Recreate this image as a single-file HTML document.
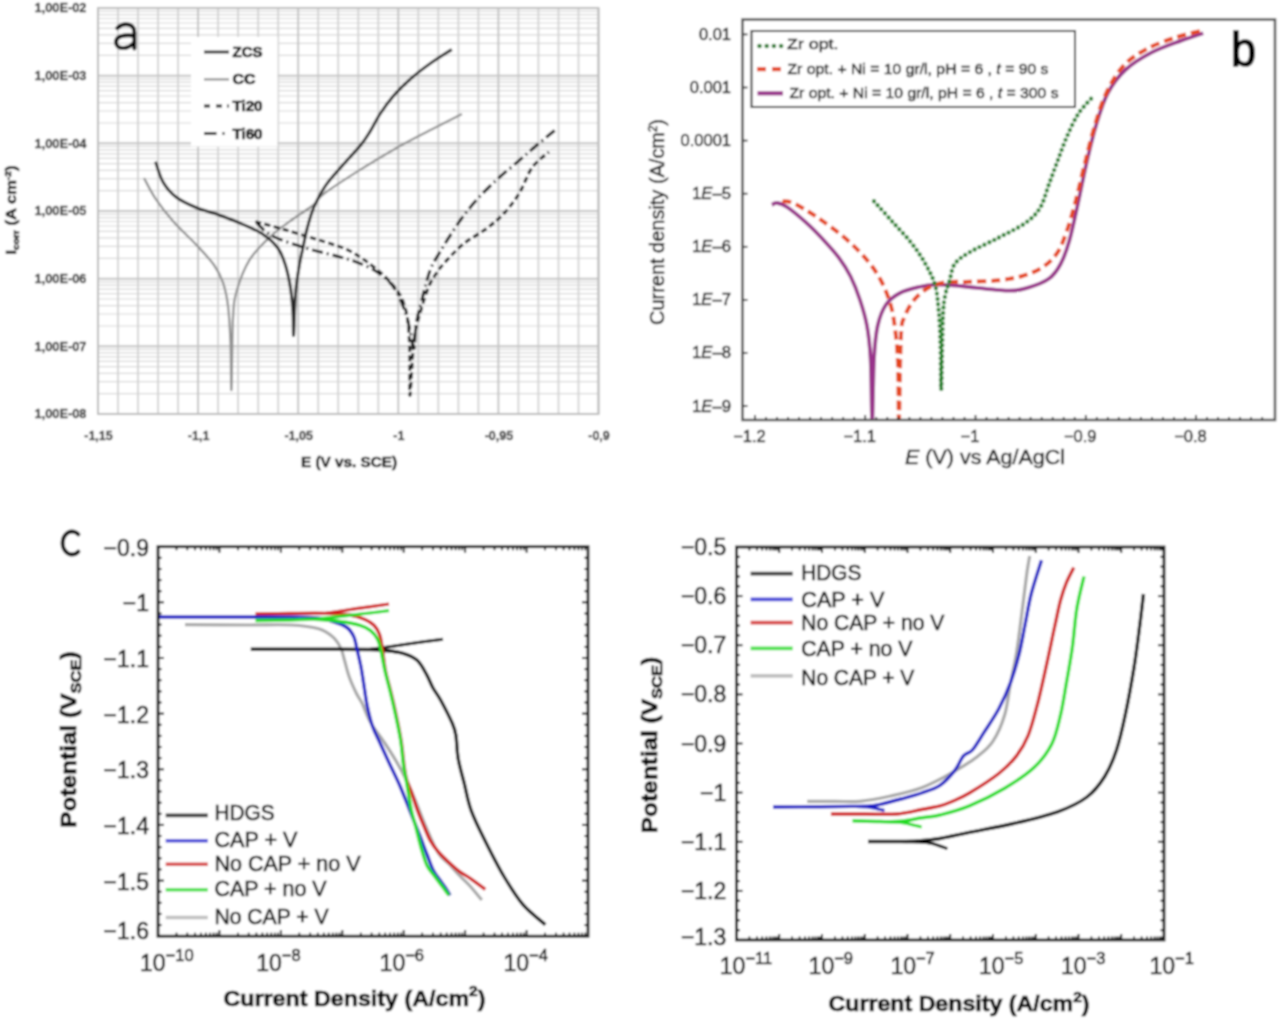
<!DOCTYPE html>
<html><head><meta charset="utf-8"><style>
html,body{margin:0;padding:0;background:#fff;width:1280px;height:1020px;overflow:hidden}
svg{display:block;font-family:"Liberation Sans",sans-serif}
</style></head><body>
<div id="w"><svg width="1280" height="1020" viewBox="0 0 1280 1020">
<defs><filter id="bl" x="0" y="0" width="1280" height="1020" filterUnits="userSpaceOnUse"><feConvolveMatrix order="5" kernelMatrix="1 4 6 4 1 4 16 24 16 4 6 24 36 24 6 4 16 24 16 4 1 4 6 4 1" edgeMode="duplicate"/></filter></defs>
<g filter="url(#bl)">
<rect width="1280" height="1020" fill="#fff"/>
<g id="pa">
<line x1="98" y1="393.6" x2="598.5" y2="393.6" stroke="#d8d8d8" stroke-width="1.2" />
<line x1="98" y1="381.7" x2="598.5" y2="381.7" stroke="#d8d8d8" stroke-width="1.2" />
<line x1="98" y1="373.3" x2="598.5" y2="373.3" stroke="#d8d8d8" stroke-width="1.2" />
<line x1="98" y1="366.7" x2="598.5" y2="366.7" stroke="#d8d8d8" stroke-width="1.2" />
<line x1="98" y1="361.3" x2="598.5" y2="361.3" stroke="#d8d8d8" stroke-width="1.2" />
<line x1="98" y1="356.8" x2="598.5" y2="356.8" stroke="#d8d8d8" stroke-width="1.2" />
<line x1="98" y1="352.9" x2="598.5" y2="352.9" stroke="#d8d8d8" stroke-width="1.2" />
<line x1="98" y1="349.4" x2="598.5" y2="349.4" stroke="#d8d8d8" stroke-width="1.2" />
<line x1="98" y1="326" x2="598.5" y2="326" stroke="#d8d8d8" stroke-width="1.2" />
<line x1="98" y1="314" x2="598.5" y2="314" stroke="#d8d8d8" stroke-width="1.2" />
<line x1="98" y1="305.6" x2="598.5" y2="305.6" stroke="#d8d8d8" stroke-width="1.2" />
<line x1="98" y1="299" x2="598.5" y2="299" stroke="#d8d8d8" stroke-width="1.2" />
<line x1="98" y1="293.7" x2="598.5" y2="293.7" stroke="#d8d8d8" stroke-width="1.2" />
<line x1="98" y1="289.1" x2="598.5" y2="289.1" stroke="#d8d8d8" stroke-width="1.2" />
<line x1="98" y1="285.2" x2="598.5" y2="285.2" stroke="#d8d8d8" stroke-width="1.2" />
<line x1="98" y1="281.8" x2="598.5" y2="281.8" stroke="#d8d8d8" stroke-width="1.2" />
<line x1="98" y1="258.3" x2="598.5" y2="258.3" stroke="#d8d8d8" stroke-width="1.2" />
<line x1="98" y1="246.4" x2="598.5" y2="246.4" stroke="#d8d8d8" stroke-width="1.2" />
<line x1="98" y1="237.9" x2="598.5" y2="237.9" stroke="#d8d8d8" stroke-width="1.2" />
<line x1="98" y1="231.4" x2="598.5" y2="231.4" stroke="#d8d8d8" stroke-width="1.2" />
<line x1="98" y1="226" x2="598.5" y2="226" stroke="#d8d8d8" stroke-width="1.2" />
<line x1="98" y1="221.5" x2="598.5" y2="221.5" stroke="#d8d8d8" stroke-width="1.2" />
<line x1="98" y1="217.6" x2="598.5" y2="217.6" stroke="#d8d8d8" stroke-width="1.2" />
<line x1="98" y1="214.1" x2="598.5" y2="214.1" stroke="#d8d8d8" stroke-width="1.2" />
<line x1="98" y1="190.6" x2="598.5" y2="190.6" stroke="#d8d8d8" stroke-width="1.2" />
<line x1="98" y1="178.7" x2="598.5" y2="178.7" stroke="#d8d8d8" stroke-width="1.2" />
<line x1="98" y1="170.3" x2="598.5" y2="170.3" stroke="#d8d8d8" stroke-width="1.2" />
<line x1="98" y1="163.7" x2="598.5" y2="163.7" stroke="#d8d8d8" stroke-width="1.2" />
<line x1="98" y1="158.3" x2="598.5" y2="158.3" stroke="#d8d8d8" stroke-width="1.2" />
<line x1="98" y1="153.8" x2="598.5" y2="153.8" stroke="#d8d8d8" stroke-width="1.2" />
<line x1="98" y1="149.9" x2="598.5" y2="149.9" stroke="#d8d8d8" stroke-width="1.2" />
<line x1="98" y1="146.4" x2="598.5" y2="146.4" stroke="#d8d8d8" stroke-width="1.2" />
<line x1="98" y1="123" x2="598.5" y2="123" stroke="#d8d8d8" stroke-width="1.2" />
<line x1="98" y1="111" x2="598.5" y2="111" stroke="#d8d8d8" stroke-width="1.2" />
<line x1="98" y1="102.6" x2="598.5" y2="102.6" stroke="#d8d8d8" stroke-width="1.2" />
<line x1="98" y1="96" x2="598.5" y2="96" stroke="#d8d8d8" stroke-width="1.2" />
<line x1="98" y1="90.7" x2="598.5" y2="90.7" stroke="#d8d8d8" stroke-width="1.2" />
<line x1="98" y1="86.1" x2="598.5" y2="86.1" stroke="#d8d8d8" stroke-width="1.2" />
<line x1="98" y1="82.2" x2="598.5" y2="82.2" stroke="#d8d8d8" stroke-width="1.2" />
<line x1="98" y1="78.8" x2="598.5" y2="78.8" stroke="#d8d8d8" stroke-width="1.2" />
<line x1="98" y1="55.3" x2="598.5" y2="55.3" stroke="#d8d8d8" stroke-width="1.2" />
<line x1="98" y1="43.4" x2="598.5" y2="43.4" stroke="#d8d8d8" stroke-width="1.2" />
<line x1="98" y1="34.9" x2="598.5" y2="34.9" stroke="#d8d8d8" stroke-width="1.2" />
<line x1="98" y1="28.4" x2="598.5" y2="28.4" stroke="#d8d8d8" stroke-width="1.2" />
<line x1="98" y1="23" x2="598.5" y2="23" stroke="#d8d8d8" stroke-width="1.2" />
<line x1="98" y1="18.5" x2="598.5" y2="18.5" stroke="#d8d8d8" stroke-width="1.2" />
<line x1="98" y1="14.6" x2="598.5" y2="14.6" stroke="#d8d8d8" stroke-width="1.2" />
<line x1="98" y1="11.1" x2="598.5" y2="11.1" stroke="#d8d8d8" stroke-width="1.2" />
<line x1="98" y1="8" x2="98" y2="414" stroke="#c0c0c0" stroke-width="1.8" />
<line x1="118" y1="8" x2="118" y2="414" stroke="#d2d2d2" stroke-width="1.8" />
<line x1="138" y1="8" x2="138" y2="414" stroke="#d2d2d2" stroke-width="1.8" />
<line x1="158.1" y1="8" x2="158.1" y2="414" stroke="#d2d2d2" stroke-width="1.8" />
<line x1="178.1" y1="8" x2="178.1" y2="414" stroke="#d2d2d2" stroke-width="1.8" />
<line x1="198.1" y1="8" x2="198.1" y2="414" stroke="#c0c0c0" stroke-width="1.8" />
<line x1="218.1" y1="8" x2="218.1" y2="414" stroke="#d2d2d2" stroke-width="1.8" />
<line x1="238.1" y1="8" x2="238.1" y2="414" stroke="#d2d2d2" stroke-width="1.8" />
<line x1="258.2" y1="8" x2="258.2" y2="414" stroke="#d2d2d2" stroke-width="1.8" />
<line x1="278.2" y1="8" x2="278.2" y2="414" stroke="#d2d2d2" stroke-width="1.8" />
<line x1="298.2" y1="8" x2="298.2" y2="414" stroke="#c0c0c0" stroke-width="1.8" />
<line x1="318.2" y1="8" x2="318.2" y2="414" stroke="#d2d2d2" stroke-width="1.8" />
<line x1="338.2" y1="8" x2="338.2" y2="414" stroke="#d2d2d2" stroke-width="1.8" />
<line x1="358.3" y1="8" x2="358.3" y2="414" stroke="#d2d2d2" stroke-width="1.8" />
<line x1="378.3" y1="8" x2="378.3" y2="414" stroke="#d2d2d2" stroke-width="1.8" />
<line x1="398.3" y1="8" x2="398.3" y2="414" stroke="#c0c0c0" stroke-width="1.8" />
<line x1="418.3" y1="8" x2="418.3" y2="414" stroke="#d2d2d2" stroke-width="1.8" />
<line x1="438.3" y1="8" x2="438.3" y2="414" stroke="#d2d2d2" stroke-width="1.8" />
<line x1="458.4" y1="8" x2="458.4" y2="414" stroke="#d2d2d2" stroke-width="1.8" />
<line x1="478.4" y1="8" x2="478.4" y2="414" stroke="#d2d2d2" stroke-width="1.8" />
<line x1="498.4" y1="8" x2="498.4" y2="414" stroke="#c0c0c0" stroke-width="1.8" />
<line x1="518.4" y1="8" x2="518.4" y2="414" stroke="#d2d2d2" stroke-width="1.8" />
<line x1="538.4" y1="8" x2="538.4" y2="414" stroke="#d2d2d2" stroke-width="1.8" />
<line x1="558.5" y1="8" x2="558.5" y2="414" stroke="#d2d2d2" stroke-width="1.8" />
<line x1="578.5" y1="8" x2="578.5" y2="414" stroke="#d2d2d2" stroke-width="1.8" />
<line x1="598.5" y1="8" x2="598.5" y2="414" stroke="#c0c0c0" stroke-width="1.8" />
<line x1="98" y1="414" x2="598.5" y2="414" stroke="#c4c4c4" stroke-width="2" />
<line x1="98" y1="346.3" x2="598.5" y2="346.3" stroke="#c4c4c4" stroke-width="2" />
<line x1="98" y1="278.7" x2="598.5" y2="278.7" stroke="#c4c4c4" stroke-width="2" />
<line x1="98" y1="211" x2="598.5" y2="211" stroke="#c4c4c4" stroke-width="2" />
<line x1="98" y1="143.3" x2="598.5" y2="143.3" stroke="#c4c4c4" stroke-width="2" />
<line x1="98" y1="75.7" x2="598.5" y2="75.7" stroke="#c4c4c4" stroke-width="2" />
<line x1="98" y1="8" x2="598.5" y2="8" stroke="#c4c4c4" stroke-width="2" />
<rect x="98" y="8" width="500.5" height="406" fill="none" stroke="#bcbcbc" stroke-width="2"/>
<rect x="191" y="37" width="86.5" height="109.5" fill="#fff"/>
<text x="86.5" y="12.4" font-size="12.5" fill="#333" text-anchor="end" font-weight="bold" textLength="52" lengthAdjust="spacingAndGlyphs" stroke="#333" stroke-width="0.3">1,00E-02</text>
<text x="86.5" y="80.1" font-size="12.5" fill="#333" text-anchor="end" font-weight="bold" textLength="52" lengthAdjust="spacingAndGlyphs" stroke="#333" stroke-width="0.3">1,00E-03</text>
<text x="86.5" y="147.7" font-size="12.5" fill="#333" text-anchor="end" font-weight="bold" textLength="52" lengthAdjust="spacingAndGlyphs" stroke="#333" stroke-width="0.3">1,00E-04</text>
<text x="86.5" y="215.4" font-size="12.5" fill="#333" text-anchor="end" font-weight="bold" textLength="52" lengthAdjust="spacingAndGlyphs" stroke="#333" stroke-width="0.3">1,00E-05</text>
<text x="86.5" y="283.1" font-size="12.5" fill="#333" text-anchor="end" font-weight="bold" textLength="52" lengthAdjust="spacingAndGlyphs" stroke="#333" stroke-width="0.3">1,00E-06</text>
<text x="86.5" y="350.7" font-size="12.5" fill="#333" text-anchor="end" font-weight="bold" textLength="52" lengthAdjust="spacingAndGlyphs" stroke="#333" stroke-width="0.3">1,00E-07</text>
<text x="86.5" y="418.4" font-size="12.5" fill="#333" text-anchor="end" font-weight="bold" textLength="52" lengthAdjust="spacingAndGlyphs" stroke="#333" stroke-width="0.3">1,00E-08</text>
<text x="98.5" y="440.4" font-size="12.5" fill="#333" text-anchor="middle" font-weight="bold" stroke="#333" stroke-width="0.3">-1,15</text>
<text x="198.6" y="440.4" font-size="12.5" fill="#333" text-anchor="middle" font-weight="bold" stroke="#333" stroke-width="0.3">-1,1</text>
<text x="298.7" y="440.4" font-size="12.5" fill="#333" text-anchor="middle" font-weight="bold" stroke="#333" stroke-width="0.3">-1,05</text>
<text x="398.8" y="440.4" font-size="12.5" fill="#333" text-anchor="middle" font-weight="bold" stroke="#333" stroke-width="0.3">-1</text>
<text x="498.9" y="440.4" font-size="12.5" fill="#333" text-anchor="middle" font-weight="bold" stroke="#333" stroke-width="0.3">-0,95</text>
<text x="599" y="440.4" font-size="12.5" fill="#333" text-anchor="middle" font-weight="bold" stroke="#333" stroke-width="0.3">-0,9</text>
<text x="349" y="467" font-size="14.5" fill="#111" text-anchor="middle" font-weight="bold" textLength="96" lengthAdjust="spacingAndGlyphs" stroke="#111" stroke-width="0.5">E (V vs. SCE)</text>
<text transform="translate(15.5 210) rotate(-90)" font-size="14.5" fill="#111" stroke="#111" stroke-width="0.5" text-anchor="middle" font-weight="bold" textLength="89" lengthAdjust="spacingAndGlyphs">I<tspan font-size="9" dy="3">corr</tspan><tspan dy="-3"> (A cm</tspan><tspan font-size="9" dy="-5">-2</tspan><tspan dy="5">)</tspan></text>
<path d="M144 178 C145.9 181.4 150.6 191.3 155.5 198.6 C160.4 205.8 166.6 213.8 173.3 221.5 C180.1 229.2 189.2 237.2 196 244.5 C202.8 251.8 209.5 258.6 214 265 C218.5 271.4 220.7 275.9 223 282.7 C225.3 289.5 226.7 295.4 228 305.6 C229.3 315.8 230 329.8 230.6 343.8 C231.2 357.8 231 394 231.4 389.7 C231.8 385.4 232.1 334.6 233 318 C233.9 301.4 234.2 299.7 237 290 C239.8 280.3 244.2 268.6 249.7 259.7 C255.2 250.8 262.8 243.6 270 236.8 C277.2 230 285.8 224.3 293 219 C300.2 213.7 308.3 209.2 313.4 205 C318.5 200.8 315.9 199.7 323.5 194 C331.1 188.3 347.1 178 358.8 170.6 C370.6 163.2 382.2 156.1 394 149.4 C405.8 142.7 418.1 136.5 429.4 130.6 C440.7 124.7 456.5 116.8 461.9 114" fill="none" stroke="#909090" stroke-width="2.3" stroke-linejoin="round" />
<path d="M255.4 221.6 C259.9 222.8 272.5 226.1 282.4 229 C292.3 231.9 303.9 235.4 314.7 238.8 C325.5 242.2 337.6 245.3 347 249.6 C356.4 253.9 364 259.7 370.8 264.7 C377.6 269.7 383 274.4 388 279.8 C393 285.2 397.8 290.5 401 297 C404.2 303.5 406.1 309.7 407.5 318.7 C408.9 327.7 409.3 338.2 409.7 351 C410.1 363.8 409.3 397.1 410 395.3 C410.7 393.5 412.3 353.9 414 340 C415.7 326.1 417.9 321 420.4 312 C422.9 303 426.1 292.8 429 286 C431.9 279.2 435.2 275 438 271 C440.8 267 441.3 266.3 445.5 261.8 C449.7 257.3 456.5 249.5 463.3 244 C470.1 238.5 479.5 233.8 486.3 228.7 C493.1 223.6 498.5 219.3 504 213.4 C509.5 207.5 514.7 200.7 519.4 193 C524.1 185.3 527.3 174.3 532.2 167.5 C537.1 160.7 546 154.6 548.8 152" fill="none" stroke="#1a1a1a" stroke-width="3" stroke-linejoin="round" stroke-dasharray="6 3.5"/>
<path d="M256.5 222.6 C259 224.8 263.7 231.4 271.6 235.6 C279.5 239.8 293.2 244.1 304 247.5 C314.8 250.9 327.3 253.5 336.3 256 C345.3 258.5 350.7 259.7 357.9 262.6 C365.1 265.5 373.3 269.1 379.4 273.4 C385.5 277.7 390.2 282 394.5 288.5 C398.8 295 402.6 304.6 405.3 312.2 C408 319.8 409.2 327.3 410.7 333.8 C412.1 340.3 413.1 352.5 414 351 C414.9 349.5 414.6 334 416 325 C417.4 316 420.2 306.2 422.6 297 C425 287.8 427.3 277.5 430.2 270 C433.1 262.5 435.4 259.7 440 252 C444.6 244.3 452 232.2 458 223.6 C464 215 469.6 207.9 476 200.6 C482.4 193.3 489.7 186.4 496.5 180 C503.3 173.6 510.6 167.9 517 162.4 C523.4 156.9 528.4 152.3 534.7 147 C541 141.7 551.3 133.2 554.6 130.5" fill="none" stroke="#1a1a1a" stroke-width="3" stroke-linejoin="round" stroke-dasharray="11 4 2 4"/>
<path d="M155.5 161.7 C156.8 165.1 159.6 176.1 163 182 C166.4 187.9 170.5 192.8 176 197 C181.5 201.2 188.8 204.5 196 207.5 C203.2 210.5 211.3 212.2 219 215 C226.7 217.8 234.8 220.8 242 224 C249.2 227.2 256.5 230 262.5 234 C268.5 238 274 242.8 277.8 248 C281.6 253.2 283.3 258.3 285.4 265 C287.5 271.7 289.2 280 290.5 288 C291.8 296 292.5 305.2 293 313 C293.5 320.8 293.2 338.3 293.6 335 C294 331.7 294.6 304.7 295.6 293 C296.6 281.3 298.2 272.2 299.4 265 C300.5 257.8 301.2 256 302.5 250 C303.8 244 305.1 236.2 307 229 C308.9 221.8 310.8 214.3 314 207 C317.2 199.7 321.3 191.8 326 185 C330.7 178.2 336.2 172.7 342 166 C347.8 159.3 356.2 150.6 361 144.7 C365.8 138.8 367.4 135.7 370.6 130.6 C373.8 125.5 376.1 119.9 380 114 C383.9 108.1 388.9 101.2 394 95.3 C399.1 89.4 404.3 84.3 410.6 78.8 C416.9 73.3 424.9 67.3 431.8 62.4 C438.7 57.5 448.5 51.6 451.8 49.4" fill="none" stroke="#262626" stroke-width="3" stroke-linejoin="round" />
<line x1="204" y1="52" x2="229" y2="52" stroke="#262626" stroke-width="2.8" />
<line x1="204" y1="79.4" x2="229" y2="79.4" stroke="#909090" stroke-width="2.2" />
<line x1="204" y1="106" x2="229" y2="106" stroke="#262626" stroke-width="2.8" stroke-dasharray="6 6 6 5 2 20"/>
<line x1="204" y1="133.5" x2="229" y2="133.5" stroke="#262626" stroke-width="3" stroke-dasharray="12.5 6 2 20"/>
<text x="232.5" y="57.2" font-size="14.5" fill="#000" text-anchor="start" font-weight="bold" textLength="30" lengthAdjust="spacingAndGlyphs" stroke="#000" stroke-width="0.7">ZCS</text>
<text x="232.5" y="84.4" font-size="14.5" fill="#000" text-anchor="start" font-weight="bold" textLength="23" lengthAdjust="spacingAndGlyphs" stroke="#000" stroke-width="0.7">CC</text>
<text x="232.5" y="111.2" font-size="14.5" fill="#000" text-anchor="start" font-weight="bold" textLength="30" lengthAdjust="spacingAndGlyphs" stroke="#000" stroke-width="0.7">Ti20</text>
<text x="232.5" y="138.6" font-size="14.5" fill="#000" text-anchor="start" font-weight="bold" textLength="30" lengthAdjust="spacingAndGlyphs" stroke="#000" stroke-width="0.7">Ti60</text>
<path d="M117.3 28.2 C119.8 25.6 122.8 24.2 126.2 24.2 C131.4 24.2 134.4 27.2 134.4 32.2 L134.4 48.6" fill="none" stroke="#000" stroke-width="3.9" stroke-linecap="round"/>
<path d="M134.4 35.7 C130.5 35.2 124.5 35.1 120.6 36.4 C117.6 37.5 116 39.7 116 42.3 C116 45.8 118.8 48.1 122.8 48.1 C127.3 48.1 131.6 45.6 134.4 42.2" fill="none" stroke="#000" stroke-width="3.9"/>
</g>
<g id="pb">
<clipPath id="cb"><rect x="742.5" y="19.5" width="532.5" height="400.5"/></clipPath>
<g clip-path="url(#cb)">
<path d="M771.8 204.7 C772.8 204.4 775.1 202.6 777.6 203 C780.1 203.4 782.3 203.8 787 207 C791.7 210.2 800 217.1 805.9 222.4 C811.8 227.7 816.9 232.9 822.4 238.8 C827.9 244.7 834.1 251.3 838.8 257.6 C843.5 263.9 847.1 269.4 850.6 276.5 C854.1 283.6 857.3 291.8 860 300 C862.7 308.2 865.2 316.2 867 326 C868.8 335.8 869.7 343.3 870.6 358.8 C871.5 374.3 871.6 419 872.2 419 C872.8 419 873.1 374.3 874 358.8 C874.9 343.3 875.6 335 877.6 326 C879.6 317 882.2 310.2 885.9 304.7 C889.6 299.2 894.5 295.9 900 293 C905.5 290.1 912.9 288.4 918.8 287 C924.7 285.6 928.4 284.9 935.3 284.7 C942.2 284.5 948 285 960 286 C972 287 996.2 290.3 1007.6 290.6 C1019 290.9 1021.3 289.6 1028.2 287.6 C1035.1 285.6 1043.4 282.7 1048.8 278.8 C1054.2 274.9 1057.2 270.4 1060.6 264 C1064 257.6 1066.5 250.9 1069.4 240.6 C1072.3 230.3 1075.3 215.7 1078.2 202.4 C1081.1 189.1 1084 173.8 1087 161 C1090 148.2 1092.5 137.2 1095.9 125.9 C1099.3 114.7 1102.7 102.8 1107.6 93.5 C1112.5 84.2 1117.9 76.8 1125.3 70 C1132.7 63.1 1142.5 57.3 1151.8 52.4 C1161.1 47.5 1172.6 43.8 1181.2 40.6 C1189.8 37.4 1199.5 34.4 1203.2 33.2" fill="none" stroke="#98308a" stroke-width="3.8" stroke-linejoin="round" />
<path d="M782.4 201.2 C784.3 201.6 788.1 200.8 794 203.5 C799.9 206.2 809 211.7 817.6 217.6 C826.2 223.5 837.7 231.7 845.9 238.8 C854.1 245.9 861.1 253 867 260 C872.9 267 877.3 273.6 881.2 281 C885.1 288.4 888.2 296.4 890.6 304.7 C893 313 894.1 320.8 895.3 330.6 C896.5 340.4 897.4 348.8 898 363.5 C898.6 378.2 898.5 423.8 899 419 C899.5 414.2 900 352.1 901 335 C902 317.9 902.5 322.3 904.7 316.5 C906.9 310.7 910.1 304.8 914 300 C917.9 295.2 922.9 290.9 928 288 C933.1 285.1 937.8 283.4 944.7 282.4 C951.6 281.4 960.4 282.1 969.4 281.8 C978.4 281.5 990 281.3 998.8 280.3 C1007.6 279.3 1015 278.2 1022.4 276 C1029.8 273.8 1037.1 270.9 1043 267 C1048.9 263.1 1053.7 258.3 1057.6 252.4 C1061.5 246.5 1063.5 240.1 1066.5 231.8 C1069.5 223.5 1072.4 213.2 1075.3 202.4 C1078.2 191.6 1081 178.8 1084 167 C1087 155.2 1089.5 143.6 1093 131.8 C1096.5 120.1 1099.8 107.3 1104.7 96.5 C1109.6 85.7 1115.5 74.8 1122.4 67 C1129.3 59.1 1137.1 54.3 1145.9 49.4 C1154.7 44.5 1165.8 40.8 1175.3 37.6 C1184.8 34.4 1198.4 31.5 1203 30.3" fill="none" stroke="#e4461a" stroke-width="4" stroke-linejoin="round" stroke-dasharray="9 5"/>
<path d="M874 201.2 C877.2 204.7 886.7 215.3 893 222.4 C899.3 229.5 906.3 236.4 911.8 243.5 C917.3 250.6 922 257.6 925.9 264.7 C929.8 271.8 933.1 278 935.3 285.9 C937.4 293.8 937.9 302 938.8 311.8 C939.7 321.6 940.1 331.8 940.5 344.7 C940.9 357.6 940.8 393.3 941.2 389.4 C941.6 385.4 942.2 336.3 942.8 321 C943.4 305.7 943.6 304.2 944.7 297.6 C945.8 291 947.7 286.8 949.4 281.2 C951.1 275.6 951.4 268.8 954.7 264 C958 259.2 962 256.8 969.4 252.4 C976.8 248 989.5 242.5 998.8 237.6 C1008.1 232.7 1018.4 227.9 1025.3 223 C1032.2 218.1 1036.1 214.4 1040 208 C1043.9 201.6 1045.9 192.5 1048.8 184.7 C1051.7 176.9 1054.6 168.8 1057.6 161 C1060.5 153.2 1063.1 145.4 1066.5 137.6 C1069.9 129.8 1073.8 120.8 1078.2 114 C1082.6 107.2 1090.5 99.4 1093 96.5" fill="none" stroke="#1a8020" stroke-width="4.4" stroke-linejoin="round" stroke-dasharray="0 5.4" stroke-linecap="round"/>
</g>
<rect x="742.5" y="19.5" width="532.5" height="400.5" fill="none" stroke="#555" stroke-width="2.6"/>
<line x1="755" y1="420" x2="755" y2="415" stroke="#333" stroke-width="1.8" />
<line x1="766" y1="420" x2="766" y2="417" stroke="#333" stroke-width="1.8" />
<line x1="777" y1="420" x2="777" y2="417" stroke="#333" stroke-width="1.8" />
<line x1="788.1" y1="420" x2="788.1" y2="417" stroke="#333" stroke-width="1.8" />
<line x1="799.1" y1="420" x2="799.1" y2="417" stroke="#333" stroke-width="1.8" />
<line x1="810.1" y1="420" x2="810.1" y2="417" stroke="#333" stroke-width="1.8" />
<line x1="821.1" y1="420" x2="821.1" y2="417" stroke="#333" stroke-width="1.8" />
<line x1="832.2" y1="420" x2="832.2" y2="417" stroke="#333" stroke-width="1.8" />
<line x1="843.2" y1="420" x2="843.2" y2="417" stroke="#333" stroke-width="1.8" />
<line x1="854.2" y1="420" x2="854.2" y2="417" stroke="#333" stroke-width="1.8" />
<line x1="865.2" y1="420" x2="865.2" y2="415" stroke="#333" stroke-width="1.8" />
<line x1="876.3" y1="420" x2="876.3" y2="417" stroke="#333" stroke-width="1.8" />
<line x1="887.3" y1="420" x2="887.3" y2="417" stroke="#333" stroke-width="1.8" />
<line x1="898.3" y1="420" x2="898.3" y2="417" stroke="#333" stroke-width="1.8" />
<line x1="909.4" y1="420" x2="909.4" y2="417" stroke="#333" stroke-width="1.8" />
<line x1="920.4" y1="420" x2="920.4" y2="417" stroke="#333" stroke-width="1.8" />
<line x1="931.4" y1="420" x2="931.4" y2="417" stroke="#333" stroke-width="1.8" />
<line x1="942.4" y1="420" x2="942.4" y2="417" stroke="#333" stroke-width="1.8" />
<line x1="953.5" y1="420" x2="953.5" y2="417" stroke="#333" stroke-width="1.8" />
<line x1="964.5" y1="420" x2="964.5" y2="417" stroke="#333" stroke-width="1.8" />
<line x1="975.5" y1="420" x2="975.5" y2="415" stroke="#333" stroke-width="1.8" />
<line x1="986.5" y1="420" x2="986.5" y2="417" stroke="#333" stroke-width="1.8" />
<line x1="997.5" y1="420" x2="997.5" y2="417" stroke="#333" stroke-width="1.8" />
<line x1="1008.6" y1="420" x2="1008.6" y2="417" stroke="#333" stroke-width="1.8" />
<line x1="1019.6" y1="420" x2="1019.6" y2="417" stroke="#333" stroke-width="1.8" />
<line x1="1030.6" y1="420" x2="1030.6" y2="417" stroke="#333" stroke-width="1.8" />
<line x1="1041.7" y1="420" x2="1041.7" y2="417" stroke="#333" stroke-width="1.8" />
<line x1="1052.7" y1="420" x2="1052.7" y2="417" stroke="#333" stroke-width="1.8" />
<line x1="1063.7" y1="420" x2="1063.7" y2="417" stroke="#333" stroke-width="1.8" />
<line x1="1074.7" y1="420" x2="1074.7" y2="417" stroke="#333" stroke-width="1.8" />
<line x1="1085.8" y1="420" x2="1085.8" y2="415" stroke="#333" stroke-width="1.8" />
<line x1="1096.8" y1="420" x2="1096.8" y2="417" stroke="#333" stroke-width="1.8" />
<line x1="1107.8" y1="420" x2="1107.8" y2="417" stroke="#333" stroke-width="1.8" />
<line x1="1118.8" y1="420" x2="1118.8" y2="417" stroke="#333" stroke-width="1.8" />
<line x1="1129.8" y1="420" x2="1129.8" y2="417" stroke="#333" stroke-width="1.8" />
<line x1="1140.9" y1="420" x2="1140.9" y2="417" stroke="#333" stroke-width="1.8" />
<line x1="1151.9" y1="420" x2="1151.9" y2="417" stroke="#333" stroke-width="1.8" />
<line x1="1162.9" y1="420" x2="1162.9" y2="417" stroke="#333" stroke-width="1.8" />
<line x1="1174" y1="420" x2="1174" y2="417" stroke="#333" stroke-width="1.8" />
<line x1="1185" y1="420" x2="1185" y2="417" stroke="#333" stroke-width="1.8" />
<line x1="1196" y1="420" x2="1196" y2="415" stroke="#333" stroke-width="1.8" />
<line x1="1207" y1="420" x2="1207" y2="417" stroke="#333" stroke-width="1.8" />
<line x1="1218" y1="420" x2="1218" y2="417" stroke="#333" stroke-width="1.8" />
<line x1="1229.1" y1="420" x2="1229.1" y2="417" stroke="#333" stroke-width="1.8" />
<line x1="1240.1" y1="420" x2="1240.1" y2="417" stroke="#333" stroke-width="1.8" />
<line x1="1251.1" y1="420" x2="1251.1" y2="417" stroke="#333" stroke-width="1.8" />
<line x1="1262.2" y1="420" x2="1262.2" y2="417" stroke="#333" stroke-width="1.8" />
<line x1="742.5" y1="406" x2="747.5" y2="406" stroke="#333" stroke-width="1.8" />
<line x1="742.5" y1="352.9" x2="747.5" y2="352.9" stroke="#333" stroke-width="1.8" />
<line x1="742.5" y1="299.9" x2="747.5" y2="299.9" stroke="#333" stroke-width="1.8" />
<line x1="742.5" y1="246.8" x2="747.5" y2="246.8" stroke="#333" stroke-width="1.8" />
<line x1="742.5" y1="193.7" x2="747.5" y2="193.7" stroke="#333" stroke-width="1.8" />
<line x1="742.5" y1="140.6" x2="747.5" y2="140.6" stroke="#333" stroke-width="1.8" />
<line x1="742.5" y1="87.5" x2="747.5" y2="87.5" stroke="#333" stroke-width="1.8" />
<line x1="742.5" y1="34.4" x2="747.5" y2="34.4" stroke="#333" stroke-width="1.8" />
<text x="731" y="39.9" font-size="16.5" fill="#1c1c1c" text-anchor="end" font-weight="normal" stroke="#1c1c1c" stroke-width="0.5">0.01</text>
<text x="731" y="93" font-size="16.5" fill="#1c1c1c" text-anchor="end" font-weight="normal" stroke="#1c1c1c" stroke-width="0.5">0.001</text>
<text x="731" y="146.1" font-size="16.5" fill="#1c1c1c" text-anchor="end" font-weight="normal" stroke="#1c1c1c" stroke-width="0.5">0.0001</text>
<text x="731" y="199.2" font-size="16.5" fill="#1c1c1c" stroke="#1c1c1c" stroke-width="0.5" text-anchor="end" textLength="39" lengthAdjust="spacingAndGlyphs">1<tspan font-style="italic">E</tspan>–5</text>
<text x="731" y="252.3" font-size="16.5" fill="#1c1c1c" stroke="#1c1c1c" stroke-width="0.5" text-anchor="end" textLength="39" lengthAdjust="spacingAndGlyphs">1<tspan font-style="italic">E</tspan>–6</text>
<text x="731" y="305.4" font-size="16.5" fill="#1c1c1c" stroke="#1c1c1c" stroke-width="0.5" text-anchor="end" textLength="39" lengthAdjust="spacingAndGlyphs">1<tspan font-style="italic">E</tspan>–7</text>
<text x="731" y="358.4" font-size="16.5" fill="#1c1c1c" stroke="#1c1c1c" stroke-width="0.5" text-anchor="end" textLength="39" lengthAdjust="spacingAndGlyphs">1<tspan font-style="italic">E</tspan>–8</text>
<text x="731" y="411.5" font-size="16.5" fill="#1c1c1c" stroke="#1c1c1c" stroke-width="0.5" text-anchor="end" textLength="39" lengthAdjust="spacingAndGlyphs">1<tspan font-style="italic">E</tspan>–9</text>
<text x="749.5" y="441.5" font-size="16.5" fill="#1c1c1c" text-anchor="middle" font-weight="normal" stroke="#1c1c1c" stroke-width="0.5">−1.2</text>
<text x="859.7" y="441.5" font-size="16.5" fill="#1c1c1c" text-anchor="middle" font-weight="normal" stroke="#1c1c1c" stroke-width="0.5">−1.1</text>
<text x="970" y="441.5" font-size="16.5" fill="#1c1c1c" text-anchor="middle" font-weight="normal" stroke="#1c1c1c" stroke-width="0.5">−1</text>
<text x="1080.2" y="441.5" font-size="16.5" fill="#1c1c1c" text-anchor="middle" font-weight="normal" stroke="#1c1c1c" stroke-width="0.5">−0.9</text>
<text x="1190.5" y="441.5" font-size="16.5" fill="#1c1c1c" text-anchor="middle" font-weight="normal" stroke="#1c1c1c" stroke-width="0.5">−0.8</text>
<text x="905" y="464" font-size="21" fill="#1c1c1c" stroke="#1c1c1c" stroke-width="0.5" textLength="160" lengthAdjust="spacingAndGlyphs"><tspan font-style="italic">E</tspan> (V) vs Ag/AgCl</text>
<text transform="translate(664 222) rotate(-90)" font-size="21" fill="#1c1c1c" stroke="#1c1c1c" stroke-width="0.5" text-anchor="middle" textLength="206" lengthAdjust="spacingAndGlyphs">Current density (A/cm<tspan font-size="12" dy="-7">2</tspan><tspan dy="7">)</tspan></text>
<rect x="751.5" y="31" width="323.5" height="76" fill="#fff" stroke="#333" stroke-width="2"/>
<line x1="759.5" y1="46" x2="784" y2="46" stroke="#1a7a20" stroke-width="4.6" stroke-dasharray="0 7.2" stroke-linecap="round"/>
<line x1="757" y1="69.2" x2="783" y2="69.2" stroke="#e4461a" stroke-width="4.2" stroke-dasharray="9 6"/>
<line x1="757.5" y1="93.3" x2="783" y2="93.3" stroke="#98308a" stroke-width="4.2" />
<text x="787" y="49.2" font-size="14.5" fill="#1c1c1c" stroke="#1c1c1c" stroke-width="0.5" textLength="51.5" lengthAdjust="spacingAndGlyphs">Zr opt.</text>
<text x="787.5" y="74.3" font-size="14.5" fill="#1c1c1c" stroke="#1c1c1c" stroke-width="0.5" textLength="261" lengthAdjust="spacingAndGlyphs">Zr opt. + Ni = 10 gr/l, pH = 6 , <tspan font-style="italic">t</tspan> = 90 s</text>
<text x="789.5" y="98.3" font-size="14.5" fill="#1c1c1c" stroke="#1c1c1c" stroke-width="0.5" textLength="269" lengthAdjust="spacingAndGlyphs">Zr opt. + Ni = 10 gr/l, pH = 6 , <tspan font-style="italic">t</tspan> = 300 s</text>
<text x="1231" y="66" font-size="48" fill="#000" text-anchor="start" font-weight="normal" textLength="25" lengthAdjust="spacingAndGlyphs" stroke="#000" stroke-width="1.6">b</text>
</g>
<clipPath id="ccl"><rect x="158" y="546.7" width="430" height="389.5"/></clipPath>
<g clip-path="url(#ccl)">
<path d="M185 624.7 C195.8 624.8 232.4 625 250 625 C267.6 625 279.2 624.4 290.6 625 C302.1 625.6 311.7 626.7 318.7 628.7 C325.7 630.7 329.1 633.6 332.8 636.9 C336.5 640.2 339.1 644.7 341 648.6 C342.9 652.5 343.1 655.6 344.5 660.3 C345.9 665 347.2 671.2 349.2 676.7 C351.1 682.2 354.1 688.6 356.2 693 C358.3 697.4 359.6 698.1 362 703 C364.4 707.9 366.8 715.8 370.6 722.5 C374.4 729.2 380.5 736.7 384.7 743 C388.9 749.3 392.6 755.1 395.7 760.4 C398.8 765.6 400.3 768.1 403.5 774.5 C406.7 780.9 410.9 790 414.7 798.8 C418.4 807.5 422.1 818 426 827 C429.9 836 434.4 846.8 438.2 853 C442 859.2 445.4 860.2 449 864 C452.6 867.8 456.5 872.3 460 876 C463.5 879.7 466.4 882 470 886 C473.6 890 479.8 897.7 481.8 900" fill="none" stroke="#a8a8a8" stroke-width="3.2" stroke-linejoin="round" />
<path d="M370 649.3 C372.4 649 378.1 648.3 384.4 647.4 C390.7 646.5 398 645.4 407.8 644 C417.6 642.6 437.1 640 443 639.2" fill="none" stroke="#000" stroke-width="3" stroke-linejoin="round" />
<path d="M250.8 649.3 C259 649.3 285.6 649.3 300 649.3 C314.4 649.3 325.8 649.3 337.5 649.3 C349.2 649.3 362.2 649.3 370 649.5 C377.8 649.7 378.9 649.9 384.4 650.5 C389.9 651.1 397.5 651.7 403 653.3 C408.5 654.9 413.3 656.8 417.2 660.3 C421.1 663.8 423.9 669.8 426.5 674.4 C429.1 679 430.6 683.7 433 688 C435.4 692.3 437.4 694.1 440.6 700 C443.8 705.9 449.8 717.6 452.4 723.5 C454.9 729.4 454.9 729.4 455.9 735.3 C456.9 741.2 456.8 750.9 458.2 758.8 C459.6 766.6 461.8 773.8 464 782.4 C466.2 791 467.6 800.8 471.2 810.6 C474.8 820.4 479.8 830.2 485.3 841.2 C490.8 852.2 497.7 865.9 504 876.5 C510.3 887.1 516.1 896.7 523 904.7 C529.9 912.7 541.6 921.4 545.3 924.7" fill="none" stroke="#000" stroke-width="3.4" stroke-linejoin="round" />
<path d="M325.8 613.4 C330.8 612.6 345.5 610.3 356 608.7 C366.5 607.1 383.5 604.8 389 604" fill="none" stroke="#d01c1c" stroke-width="3.2" stroke-linejoin="round" />
<path d="M255.5 614 C261.2 613.9 278.3 613.6 290 613.5 C301.7 613.4 315.8 613.1 325.8 613.4 C335.8 613.6 343.5 614 350 615 C356.5 616 361 617.8 365 619.5 C369 621.2 371.6 622.9 374 625.3 C376.4 627.7 378.1 630.7 379.4 634 C380.7 637.3 380.8 639.1 381.8 645 C382.8 650.9 383.8 661.9 385.2 669.5 C386.6 677.1 388.7 683.4 390.5 690.7 C392.3 698.1 394.1 705.4 395.8 713.6 C397.6 721.8 399.6 731.5 401 740.1 C402.4 748.7 403.1 758.5 404 765 C404.9 771.5 405.3 774.7 406.5 779.2 C407.7 783.7 409.5 786.6 411.4 791.8 C413.2 797 415.5 804.9 417.6 810.6 C419.7 816.4 421.9 821.3 424 826.3 C426.1 831.3 427.9 836.2 430.2 840.4 C432.5 844.6 434.9 847.7 438 851.4 C441.1 855.1 445.3 859 449 862.4 C452.7 865.8 456.3 869.1 460 871.8 C463.7 874.5 466.8 875.9 471 878.8 C475.2 881.7 482.9 887.6 485.3 889.4" fill="none" stroke="#d01c1c" stroke-width="3.4" stroke-linejoin="round" />
<path d="M158 617 C173.3 617 224 616.9 250 617 C276 617.1 300.2 616.9 314 617.7 C327.8 618.5 327.3 620 332.8 621.6 C338.3 623.2 343.4 625 346.9 627.5 C350.4 630 352.1 633 353.9 636.9 C355.6 640.8 356.2 646 357.4 651 C358.6 656 359.8 660.8 361 667 C362.2 673.2 363.4 682.1 364.4 688.4 C365.4 694.7 365.7 698.5 367 704.8 C368.3 711.1 370.2 719.6 372.4 726 C374.6 732.4 377.2 736.8 380 743 C382.8 749.2 386 756.2 389.4 763.5 C392.8 770.8 397 779.1 400.4 787 C403.8 794.9 406.7 802.8 409.8 810.6 C412.9 818.4 416.3 826.7 419.2 834 C422.1 841.3 424.6 848.5 427 854.5 C429.4 860.5 431.1 866 433.3 870.2 C435.5 874.5 438.1 877.2 440 880 C441.9 882.8 443.3 884.5 445 887 C446.7 889.5 449.2 893.9 450 895.3" fill="none" stroke="#1a1ac4" stroke-width="3.4" stroke-linejoin="round" />
<path d="M314 619.3 C321 618.5 343.7 616 356.2 614.6 C368.7 613.2 383.5 611.3 389 610.6" fill="none" stroke="#22dc22" stroke-width="3.2" stroke-linejoin="round" />
<path d="M255.5 620.5 C261.2 620.4 280.2 620.2 290 620 C299.8 619.8 305.7 619 314 619.3 C322.3 619.5 332.3 620.5 340 621.5 C347.7 622.5 354.9 623.8 360 625.3 C365.1 626.8 367.7 628.2 370.6 630.6 C373.6 633 375.9 635.9 377.7 639.4 C379.5 642.9 380 646.8 381.2 651.8 C382.4 656.8 383.2 663 384.7 669.5 C386.2 676 388.2 683.4 390 690.7 C391.8 698.1 393.5 705.4 395.3 713.6 C397.1 721.8 399.2 731.5 400.6 740.1 C402 748.7 402.6 758.5 403.5 765 C404.4 771.5 405.2 774.7 406 779.2 C406.8 783.7 407.3 786.6 408.2 791.8 C409.1 797 410.1 804.6 411.4 810.6 C412.7 816.6 414.4 821.8 416 827.8 C417.6 833.8 419 840.4 420.8 846.7 C422.6 853 424.6 860.5 427 865.5 C429.4 870.5 432.4 873.1 434.9 876.5 C437.4 879.9 439.6 882.9 442 886 C444.4 889.1 447.8 893.8 449 895.3" fill="none" stroke="#22dc22" stroke-width="3.4" stroke-linejoin="round" />
</g>
<rect x="158" y="546.7" width="430" height="389.5" fill="none" stroke="#000" stroke-width="2.8"/>
<line x1="158" y1="546.7" x2="164" y2="546.7" stroke="#111" stroke-width="2" />
<line x1="588" y1="546.7" x2="582" y2="546.7" stroke="#111" stroke-width="2" />
<line x1="158" y1="557.8" x2="161.5" y2="557.8" stroke="#111" stroke-width="2" />
<line x1="588" y1="557.8" x2="584.5" y2="557.8" stroke="#111" stroke-width="2" />
<line x1="158" y1="569" x2="161.5" y2="569" stroke="#111" stroke-width="2" />
<line x1="588" y1="569" x2="584.5" y2="569" stroke="#111" stroke-width="2" />
<line x1="158" y1="580.1" x2="161.5" y2="580.1" stroke="#111" stroke-width="2" />
<line x1="588" y1="580.1" x2="584.5" y2="580.1" stroke="#111" stroke-width="2" />
<line x1="158" y1="591.2" x2="161.5" y2="591.2" stroke="#111" stroke-width="2" />
<line x1="588" y1="591.2" x2="584.5" y2="591.2" stroke="#111" stroke-width="2" />
<line x1="158" y1="602.3" x2="164" y2="602.3" stroke="#111" stroke-width="2" />
<line x1="588" y1="602.3" x2="582" y2="602.3" stroke="#111" stroke-width="2" />
<line x1="158" y1="613.5" x2="161.5" y2="613.5" stroke="#111" stroke-width="2" />
<line x1="588" y1="613.5" x2="584.5" y2="613.5" stroke="#111" stroke-width="2" />
<line x1="158" y1="624.6" x2="161.5" y2="624.6" stroke="#111" stroke-width="2" />
<line x1="588" y1="624.6" x2="584.5" y2="624.6" stroke="#111" stroke-width="2" />
<line x1="158" y1="635.7" x2="161.5" y2="635.7" stroke="#111" stroke-width="2" />
<line x1="588" y1="635.7" x2="584.5" y2="635.7" stroke="#111" stroke-width="2" />
<line x1="158" y1="646.9" x2="161.5" y2="646.9" stroke="#111" stroke-width="2" />
<line x1="588" y1="646.9" x2="584.5" y2="646.9" stroke="#111" stroke-width="2" />
<line x1="158" y1="658" x2="164" y2="658" stroke="#111" stroke-width="2" />
<line x1="588" y1="658" x2="582" y2="658" stroke="#111" stroke-width="2" />
<line x1="158" y1="669.1" x2="161.5" y2="669.1" stroke="#111" stroke-width="2" />
<line x1="588" y1="669.1" x2="584.5" y2="669.1" stroke="#111" stroke-width="2" />
<line x1="158" y1="680.2" x2="161.5" y2="680.2" stroke="#111" stroke-width="2" />
<line x1="588" y1="680.2" x2="584.5" y2="680.2" stroke="#111" stroke-width="2" />
<line x1="158" y1="691.4" x2="161.5" y2="691.4" stroke="#111" stroke-width="2" />
<line x1="588" y1="691.4" x2="584.5" y2="691.4" stroke="#111" stroke-width="2" />
<line x1="158" y1="702.5" x2="161.5" y2="702.5" stroke="#111" stroke-width="2" />
<line x1="588" y1="702.5" x2="584.5" y2="702.5" stroke="#111" stroke-width="2" />
<line x1="158" y1="713.6" x2="164" y2="713.6" stroke="#111" stroke-width="2" />
<line x1="588" y1="713.6" x2="582" y2="713.6" stroke="#111" stroke-width="2" />
<line x1="158" y1="724.8" x2="161.5" y2="724.8" stroke="#111" stroke-width="2" />
<line x1="588" y1="724.8" x2="584.5" y2="724.8" stroke="#111" stroke-width="2" />
<line x1="158" y1="735.9" x2="161.5" y2="735.9" stroke="#111" stroke-width="2" />
<line x1="588" y1="735.9" x2="584.5" y2="735.9" stroke="#111" stroke-width="2" />
<line x1="158" y1="747" x2="161.5" y2="747" stroke="#111" stroke-width="2" />
<line x1="588" y1="747" x2="584.5" y2="747" stroke="#111" stroke-width="2" />
<line x1="158" y1="758.1" x2="161.5" y2="758.1" stroke="#111" stroke-width="2" />
<line x1="588" y1="758.1" x2="584.5" y2="758.1" stroke="#111" stroke-width="2" />
<line x1="158" y1="769.3" x2="164" y2="769.3" stroke="#111" stroke-width="2" />
<line x1="588" y1="769.3" x2="582" y2="769.3" stroke="#111" stroke-width="2" />
<line x1="158" y1="780.4" x2="161.5" y2="780.4" stroke="#111" stroke-width="2" />
<line x1="588" y1="780.4" x2="584.5" y2="780.4" stroke="#111" stroke-width="2" />
<line x1="158" y1="791.5" x2="161.5" y2="791.5" stroke="#111" stroke-width="2" />
<line x1="588" y1="791.5" x2="584.5" y2="791.5" stroke="#111" stroke-width="2" />
<line x1="158" y1="802.7" x2="161.5" y2="802.7" stroke="#111" stroke-width="2" />
<line x1="588" y1="802.7" x2="584.5" y2="802.7" stroke="#111" stroke-width="2" />
<line x1="158" y1="813.8" x2="161.5" y2="813.8" stroke="#111" stroke-width="2" />
<line x1="588" y1="813.8" x2="584.5" y2="813.8" stroke="#111" stroke-width="2" />
<line x1="158" y1="824.9" x2="164" y2="824.9" stroke="#111" stroke-width="2" />
<line x1="588" y1="824.9" x2="582" y2="824.9" stroke="#111" stroke-width="2" />
<line x1="158" y1="836" x2="161.5" y2="836" stroke="#111" stroke-width="2" />
<line x1="588" y1="836" x2="584.5" y2="836" stroke="#111" stroke-width="2" />
<line x1="158" y1="847.2" x2="161.5" y2="847.2" stroke="#111" stroke-width="2" />
<line x1="588" y1="847.2" x2="584.5" y2="847.2" stroke="#111" stroke-width="2" />
<line x1="158" y1="858.3" x2="161.5" y2="858.3" stroke="#111" stroke-width="2" />
<line x1="588" y1="858.3" x2="584.5" y2="858.3" stroke="#111" stroke-width="2" />
<line x1="158" y1="869.4" x2="161.5" y2="869.4" stroke="#111" stroke-width="2" />
<line x1="588" y1="869.4" x2="584.5" y2="869.4" stroke="#111" stroke-width="2" />
<line x1="158" y1="880.6" x2="164" y2="880.6" stroke="#111" stroke-width="2" />
<line x1="588" y1="880.6" x2="582" y2="880.6" stroke="#111" stroke-width="2" />
<line x1="158" y1="891.7" x2="161.5" y2="891.7" stroke="#111" stroke-width="2" />
<line x1="588" y1="891.7" x2="584.5" y2="891.7" stroke="#111" stroke-width="2" />
<line x1="158" y1="902.8" x2="161.5" y2="902.8" stroke="#111" stroke-width="2" />
<line x1="588" y1="902.8" x2="584.5" y2="902.8" stroke="#111" stroke-width="2" />
<line x1="158" y1="913.9" x2="161.5" y2="913.9" stroke="#111" stroke-width="2" />
<line x1="588" y1="913.9" x2="584.5" y2="913.9" stroke="#111" stroke-width="2" />
<line x1="158" y1="925.1" x2="161.5" y2="925.1" stroke="#111" stroke-width="2" />
<line x1="588" y1="925.1" x2="584.5" y2="925.1" stroke="#111" stroke-width="2" />
<line x1="158" y1="936.2" x2="164" y2="936.2" stroke="#111" stroke-width="2" />
<line x1="588" y1="936.2" x2="582" y2="936.2" stroke="#111" stroke-width="2" />
<line x1="158" y1="936.2" x2="158" y2="930.2" stroke="#111" stroke-width="2" />
<line x1="158" y1="546.7" x2="158" y2="552.7" stroke="#111" stroke-width="2" />
<line x1="176.5" y1="936.2" x2="176.5" y2="932.7" stroke="#111" stroke-width="1.8" />
<line x1="176.5" y1="546.7" x2="176.5" y2="550.2" stroke="#111" stroke-width="1.8" />
<line x1="187.3" y1="936.2" x2="187.3" y2="932.7" stroke="#111" stroke-width="1.8" />
<line x1="187.3" y1="546.7" x2="187.3" y2="550.2" stroke="#111" stroke-width="1.8" />
<line x1="195" y1="936.2" x2="195" y2="932.7" stroke="#111" stroke-width="1.8" />
<line x1="195" y1="546.7" x2="195" y2="550.2" stroke="#111" stroke-width="1.8" />
<line x1="200.9" y1="936.2" x2="200.9" y2="932.7" stroke="#111" stroke-width="1.8" />
<line x1="200.9" y1="546.7" x2="200.9" y2="550.2" stroke="#111" stroke-width="1.8" />
<line x1="205.8" y1="936.2" x2="205.8" y2="932.7" stroke="#111" stroke-width="1.8" />
<line x1="205.8" y1="546.7" x2="205.8" y2="550.2" stroke="#111" stroke-width="1.8" />
<line x1="209.9" y1="936.2" x2="209.9" y2="932.7" stroke="#111" stroke-width="1.8" />
<line x1="209.9" y1="546.7" x2="209.9" y2="550.2" stroke="#111" stroke-width="1.8" />
<line x1="213.5" y1="936.2" x2="213.5" y2="932.7" stroke="#111" stroke-width="1.8" />
<line x1="213.5" y1="546.7" x2="213.5" y2="550.2" stroke="#111" stroke-width="1.8" />
<line x1="216.6" y1="936.2" x2="216.6" y2="932.7" stroke="#111" stroke-width="1.8" />
<line x1="216.6" y1="546.7" x2="216.6" y2="550.2" stroke="#111" stroke-width="1.8" />
<line x1="219.4" y1="936.2" x2="219.4" y2="930.2" stroke="#111" stroke-width="2" />
<line x1="219.4" y1="546.7" x2="219.4" y2="552.7" stroke="#111" stroke-width="2" />
<line x1="237.9" y1="936.2" x2="237.9" y2="932.7" stroke="#111" stroke-width="1.8" />
<line x1="237.9" y1="546.7" x2="237.9" y2="550.2" stroke="#111" stroke-width="1.8" />
<line x1="248.7" y1="936.2" x2="248.7" y2="932.7" stroke="#111" stroke-width="1.8" />
<line x1="248.7" y1="546.7" x2="248.7" y2="550.2" stroke="#111" stroke-width="1.8" />
<line x1="256.4" y1="936.2" x2="256.4" y2="932.7" stroke="#111" stroke-width="1.8" />
<line x1="256.4" y1="546.7" x2="256.4" y2="550.2" stroke="#111" stroke-width="1.8" />
<line x1="262.4" y1="936.2" x2="262.4" y2="932.7" stroke="#111" stroke-width="1.8" />
<line x1="262.4" y1="546.7" x2="262.4" y2="550.2" stroke="#111" stroke-width="1.8" />
<line x1="267.2" y1="936.2" x2="267.2" y2="932.7" stroke="#111" stroke-width="1.8" />
<line x1="267.2" y1="546.7" x2="267.2" y2="550.2" stroke="#111" stroke-width="1.8" />
<line x1="271.3" y1="936.2" x2="271.3" y2="932.7" stroke="#111" stroke-width="1.8" />
<line x1="271.3" y1="546.7" x2="271.3" y2="550.2" stroke="#111" stroke-width="1.8" />
<line x1="274.9" y1="936.2" x2="274.9" y2="932.7" stroke="#111" stroke-width="1.8" />
<line x1="274.9" y1="546.7" x2="274.9" y2="550.2" stroke="#111" stroke-width="1.8" />
<line x1="278" y1="936.2" x2="278" y2="932.7" stroke="#111" stroke-width="1.8" />
<line x1="278" y1="546.7" x2="278" y2="550.2" stroke="#111" stroke-width="1.8" />
<line x1="280.9" y1="936.2" x2="280.9" y2="930.2" stroke="#111" stroke-width="2" />
<line x1="280.9" y1="546.7" x2="280.9" y2="552.7" stroke="#111" stroke-width="2" />
<line x1="299.3" y1="936.2" x2="299.3" y2="932.7" stroke="#111" stroke-width="1.8" />
<line x1="299.3" y1="546.7" x2="299.3" y2="550.2" stroke="#111" stroke-width="1.8" />
<line x1="310.2" y1="936.2" x2="310.2" y2="932.7" stroke="#111" stroke-width="1.8" />
<line x1="310.2" y1="546.7" x2="310.2" y2="550.2" stroke="#111" stroke-width="1.8" />
<line x1="317.8" y1="936.2" x2="317.8" y2="932.7" stroke="#111" stroke-width="1.8" />
<line x1="317.8" y1="546.7" x2="317.8" y2="550.2" stroke="#111" stroke-width="1.8" />
<line x1="323.8" y1="936.2" x2="323.8" y2="932.7" stroke="#111" stroke-width="1.8" />
<line x1="323.8" y1="546.7" x2="323.8" y2="550.2" stroke="#111" stroke-width="1.8" />
<line x1="328.7" y1="936.2" x2="328.7" y2="932.7" stroke="#111" stroke-width="1.8" />
<line x1="328.7" y1="546.7" x2="328.7" y2="550.2" stroke="#111" stroke-width="1.8" />
<line x1="332.8" y1="936.2" x2="332.8" y2="932.7" stroke="#111" stroke-width="1.8" />
<line x1="332.8" y1="546.7" x2="332.8" y2="550.2" stroke="#111" stroke-width="1.8" />
<line x1="336.3" y1="936.2" x2="336.3" y2="932.7" stroke="#111" stroke-width="1.8" />
<line x1="336.3" y1="546.7" x2="336.3" y2="550.2" stroke="#111" stroke-width="1.8" />
<line x1="339.5" y1="936.2" x2="339.5" y2="932.7" stroke="#111" stroke-width="1.8" />
<line x1="339.5" y1="546.7" x2="339.5" y2="550.2" stroke="#111" stroke-width="1.8" />
<line x1="342.3" y1="936.2" x2="342.3" y2="930.2" stroke="#111" stroke-width="2" />
<line x1="342.3" y1="546.7" x2="342.3" y2="552.7" stroke="#111" stroke-width="2" />
<line x1="360.8" y1="936.2" x2="360.8" y2="932.7" stroke="#111" stroke-width="1.8" />
<line x1="360.8" y1="546.7" x2="360.8" y2="550.2" stroke="#111" stroke-width="1.8" />
<line x1="371.6" y1="936.2" x2="371.6" y2="932.7" stroke="#111" stroke-width="1.8" />
<line x1="371.6" y1="546.7" x2="371.6" y2="550.2" stroke="#111" stroke-width="1.8" />
<line x1="379.3" y1="936.2" x2="379.3" y2="932.7" stroke="#111" stroke-width="1.8" />
<line x1="379.3" y1="546.7" x2="379.3" y2="550.2" stroke="#111" stroke-width="1.8" />
<line x1="385.2" y1="936.2" x2="385.2" y2="932.7" stroke="#111" stroke-width="1.8" />
<line x1="385.2" y1="546.7" x2="385.2" y2="550.2" stroke="#111" stroke-width="1.8" />
<line x1="390.1" y1="936.2" x2="390.1" y2="932.7" stroke="#111" stroke-width="1.8" />
<line x1="390.1" y1="546.7" x2="390.1" y2="550.2" stroke="#111" stroke-width="1.8" />
<line x1="394.2" y1="936.2" x2="394.2" y2="932.7" stroke="#111" stroke-width="1.8" />
<line x1="394.2" y1="546.7" x2="394.2" y2="550.2" stroke="#111" stroke-width="1.8" />
<line x1="397.8" y1="936.2" x2="397.8" y2="932.7" stroke="#111" stroke-width="1.8" />
<line x1="397.8" y1="546.7" x2="397.8" y2="550.2" stroke="#111" stroke-width="1.8" />
<line x1="400.9" y1="936.2" x2="400.9" y2="932.7" stroke="#111" stroke-width="1.8" />
<line x1="400.9" y1="546.7" x2="400.9" y2="550.2" stroke="#111" stroke-width="1.8" />
<line x1="403.7" y1="936.2" x2="403.7" y2="930.2" stroke="#111" stroke-width="2" />
<line x1="403.7" y1="546.7" x2="403.7" y2="552.7" stroke="#111" stroke-width="2" />
<line x1="422.2" y1="936.2" x2="422.2" y2="932.7" stroke="#111" stroke-width="1.8" />
<line x1="422.2" y1="546.7" x2="422.2" y2="550.2" stroke="#111" stroke-width="1.8" />
<line x1="433" y1="936.2" x2="433" y2="932.7" stroke="#111" stroke-width="1.8" />
<line x1="433" y1="546.7" x2="433" y2="550.2" stroke="#111" stroke-width="1.8" />
<line x1="440.7" y1="936.2" x2="440.7" y2="932.7" stroke="#111" stroke-width="1.8" />
<line x1="440.7" y1="546.7" x2="440.7" y2="550.2" stroke="#111" stroke-width="1.8" />
<line x1="446.7" y1="936.2" x2="446.7" y2="932.7" stroke="#111" stroke-width="1.8" />
<line x1="446.7" y1="546.7" x2="446.7" y2="550.2" stroke="#111" stroke-width="1.8" />
<line x1="451.5" y1="936.2" x2="451.5" y2="932.7" stroke="#111" stroke-width="1.8" />
<line x1="451.5" y1="546.7" x2="451.5" y2="550.2" stroke="#111" stroke-width="1.8" />
<line x1="455.6" y1="936.2" x2="455.6" y2="932.7" stroke="#111" stroke-width="1.8" />
<line x1="455.6" y1="546.7" x2="455.6" y2="550.2" stroke="#111" stroke-width="1.8" />
<line x1="459.2" y1="936.2" x2="459.2" y2="932.7" stroke="#111" stroke-width="1.8" />
<line x1="459.2" y1="546.7" x2="459.2" y2="550.2" stroke="#111" stroke-width="1.8" />
<line x1="462.3" y1="936.2" x2="462.3" y2="932.7" stroke="#111" stroke-width="1.8" />
<line x1="462.3" y1="546.7" x2="462.3" y2="550.2" stroke="#111" stroke-width="1.8" />
<line x1="465.1" y1="936.2" x2="465.1" y2="930.2" stroke="#111" stroke-width="2" />
<line x1="465.1" y1="546.7" x2="465.1" y2="552.7" stroke="#111" stroke-width="2" />
<line x1="483.6" y1="936.2" x2="483.6" y2="932.7" stroke="#111" stroke-width="1.8" />
<line x1="483.6" y1="546.7" x2="483.6" y2="550.2" stroke="#111" stroke-width="1.8" />
<line x1="494.5" y1="936.2" x2="494.5" y2="932.7" stroke="#111" stroke-width="1.8" />
<line x1="494.5" y1="546.7" x2="494.5" y2="550.2" stroke="#111" stroke-width="1.8" />
<line x1="502.1" y1="936.2" x2="502.1" y2="932.7" stroke="#111" stroke-width="1.8" />
<line x1="502.1" y1="546.7" x2="502.1" y2="550.2" stroke="#111" stroke-width="1.8" />
<line x1="508.1" y1="936.2" x2="508.1" y2="932.7" stroke="#111" stroke-width="1.8" />
<line x1="508.1" y1="546.7" x2="508.1" y2="550.2" stroke="#111" stroke-width="1.8" />
<line x1="512.9" y1="936.2" x2="512.9" y2="932.7" stroke="#111" stroke-width="1.8" />
<line x1="512.9" y1="546.7" x2="512.9" y2="550.2" stroke="#111" stroke-width="1.8" />
<line x1="517.1" y1="936.2" x2="517.1" y2="932.7" stroke="#111" stroke-width="1.8" />
<line x1="517.1" y1="546.7" x2="517.1" y2="550.2" stroke="#111" stroke-width="1.8" />
<line x1="520.6" y1="936.2" x2="520.6" y2="932.7" stroke="#111" stroke-width="1.8" />
<line x1="520.6" y1="546.7" x2="520.6" y2="550.2" stroke="#111" stroke-width="1.8" />
<line x1="523.8" y1="936.2" x2="523.8" y2="932.7" stroke="#111" stroke-width="1.8" />
<line x1="523.8" y1="546.7" x2="523.8" y2="550.2" stroke="#111" stroke-width="1.8" />
<line x1="526.6" y1="936.2" x2="526.6" y2="930.2" stroke="#111" stroke-width="2" />
<line x1="526.6" y1="546.7" x2="526.6" y2="552.7" stroke="#111" stroke-width="2" />
<line x1="545.1" y1="936.2" x2="545.1" y2="932.7" stroke="#111" stroke-width="1.8" />
<line x1="545.1" y1="546.7" x2="545.1" y2="550.2" stroke="#111" stroke-width="1.8" />
<line x1="555.9" y1="936.2" x2="555.9" y2="932.7" stroke="#111" stroke-width="1.8" />
<line x1="555.9" y1="546.7" x2="555.9" y2="550.2" stroke="#111" stroke-width="1.8" />
<line x1="563.6" y1="936.2" x2="563.6" y2="932.7" stroke="#111" stroke-width="1.8" />
<line x1="563.6" y1="546.7" x2="563.6" y2="550.2" stroke="#111" stroke-width="1.8" />
<line x1="569.5" y1="936.2" x2="569.5" y2="932.7" stroke="#111" stroke-width="1.8" />
<line x1="569.5" y1="546.7" x2="569.5" y2="550.2" stroke="#111" stroke-width="1.8" />
<line x1="574.4" y1="936.2" x2="574.4" y2="932.7" stroke="#111" stroke-width="1.8" />
<line x1="574.4" y1="546.7" x2="574.4" y2="550.2" stroke="#111" stroke-width="1.8" />
<line x1="578.5" y1="936.2" x2="578.5" y2="932.7" stroke="#111" stroke-width="1.8" />
<line x1="578.5" y1="546.7" x2="578.5" y2="550.2" stroke="#111" stroke-width="1.8" />
<line x1="582" y1="936.2" x2="582" y2="932.7" stroke="#111" stroke-width="1.8" />
<line x1="582" y1="546.7" x2="582" y2="550.2" stroke="#111" stroke-width="1.8" />
<line x1="585.2" y1="936.2" x2="585.2" y2="932.7" stroke="#111" stroke-width="1.8" />
<line x1="585.2" y1="546.7" x2="585.2" y2="550.2" stroke="#111" stroke-width="1.8" />
<line x1="588" y1="936.2" x2="588" y2="930.2" stroke="#111" stroke-width="2" />
<line x1="588" y1="546.7" x2="588" y2="552.7" stroke="#111" stroke-width="2" />
<text x="149" y="555.8" font-size="23" fill="#111" text-anchor="end" stroke="#111" stroke-width="0.6">−0.9</text>
<text x="149" y="611.4" font-size="23" fill="#111" text-anchor="end" stroke="#111" stroke-width="0.6">−1</text>
<text x="149" y="667.1" font-size="23" fill="#111" text-anchor="end" stroke="#111" stroke-width="0.6">−1.1</text>
<text x="149" y="722.7" font-size="23" fill="#111" text-anchor="end" stroke="#111" stroke-width="0.6">−1.2</text>
<text x="149" y="778.4" font-size="23" fill="#111" text-anchor="end" stroke="#111" stroke-width="0.6">−1.3</text>
<text x="149" y="834" font-size="23" fill="#111" text-anchor="end" stroke="#111" stroke-width="0.6">−1.4</text>
<text x="149" y="889.7" font-size="23" fill="#111" text-anchor="end" stroke="#111" stroke-width="0.6">−1.5</text>
<text x="149" y="939" font-size="23" fill="#111" text-anchor="end" stroke="#111" stroke-width="0.6">−1.6</text>
<text x="140" y="970.5" font-size="23" fill="#111" stroke="#111" stroke-width="0.6">10<tspan font-size="16.5" dy="-9.5">−10</tspan></text>
<text x="256.2" y="970.5" font-size="23" fill="#111" stroke="#111" stroke-width="0.6">10<tspan font-size="16.5" dy="-9.5">−8</tspan></text>
<text x="379.6" y="970.5" font-size="23" fill="#111" stroke="#111" stroke-width="0.6">10<tspan font-size="16.5" dy="-9.5">−6</tspan></text>
<text x="503.5" y="970.5" font-size="23" fill="#111" stroke="#111" stroke-width="0.6">10<tspan font-size="16.5" dy="-9.5">−4</tspan></text>
<text x="223.5" y="1005.6" font-size="22.5" fill="#000" stroke="#000" stroke-width="0.7" font-weight="bold" textLength="262" lengthAdjust="spacingAndGlyphs">Current Density (A/cm<tspan font-size="15" dy="-9.5">2</tspan><tspan dy="9.5">)</tspan></text>
<text transform="translate(76 739.5) rotate(-90)" font-size="22" fill="#000" stroke="#000" stroke-width="0.7" font-weight="bold" text-anchor="middle" textLength="176.5" lengthAdjust="spacingAndGlyphs">Potential (V<tspan font-size="15" dy="5">SCE</tspan><tspan dy="-5">)</tspan></text>
<line x1="165.7" y1="815.4" x2="207.8" y2="815.4" stroke="#3a3a3a" stroke-width="3.6" />
<text x="214.5" y="820" font-size="22.5" fill="#111" text-anchor="start" font-weight="normal" textLength="60" lengthAdjust="spacingAndGlyphs" stroke="#111" stroke-width="0.7">HDGS</text>
<line x1="165.7" y1="840.7" x2="207.8" y2="840.7" stroke="#4646d8" stroke-width="3.6" />
<text x="214.5" y="847" font-size="22.5" fill="#111" text-anchor="start" font-weight="normal" textLength="83" lengthAdjust="spacingAndGlyphs" stroke="#111" stroke-width="0.7">CAP + V</text>
<line x1="165.7" y1="864.3" x2="207.8" y2="864.3" stroke="#d84646" stroke-width="3.6" />
<text x="214.5" y="871" font-size="22.5" fill="#111" text-anchor="start" font-weight="normal" textLength="146" lengthAdjust="spacingAndGlyphs" stroke="#111" stroke-width="0.7">No CAP + no V</text>
<line x1="165.7" y1="889.7" x2="207.8" y2="889.7" stroke="#4ce04c" stroke-width="3.6" />
<text x="214.5" y="896" font-size="22.5" fill="#111" text-anchor="start" font-weight="normal" textLength="112" lengthAdjust="spacingAndGlyphs" stroke="#111" stroke-width="0.7">CAP + no V</text>
<line x1="165.7" y1="917.5" x2="207.8" y2="917.5" stroke="#c0c0c0" stroke-width="3.6" />
<text x="214.5" y="924" font-size="22.5" fill="#111" text-anchor="start" font-weight="normal" textLength="114" lengthAdjust="spacingAndGlyphs" stroke="#111" stroke-width="0.7">No CAP + V</text>
<clipPath id="ccr"><rect x="736.5" y="547" width="427.5" height="393"/></clipPath>
<g clip-path="url(#ccr)">
<path d="M807.2 801.3 C811.8 801.3 826.2 801.3 835 801.3 C843.8 801.3 850.5 802.2 859.8 801.3 C869.1 800.4 880.4 798.2 890.7 796 C901 793.8 911.3 791.7 921.6 787.8 C931.9 783.9 943.2 777.7 952.6 772.4 C962 767.1 971.5 761.1 978.2 755.9 C984.9 750.7 988.6 748.1 993 741.2 C997.4 734.3 1001.8 724.5 1004.7 714.7 C1007.6 704.9 1008.6 692.7 1010.6 682.4 C1012.6 672.1 1014.5 665.3 1016.5 653 C1018.5 640.7 1020.7 622 1022.4 608.8 C1024.1 595.5 1025.6 582.3 1026.8 573.5 C1028 564.7 1029.2 558.8 1029.7 555.9" fill="none" stroke="#a8a8a8" stroke-width="3.2" stroke-linejoin="round" />
<path d="M895 841.5 C898.8 841.6 911.3 841.7 917.5 842 C923.7 842.3 927 842.4 932 843.5 C937 844.6 944.8 847.8 947.4 848.7" fill="none" stroke="#000" stroke-width="3" stroke-linejoin="round" />
<path d="M868 841.5 C872.5 841.5 886.8 841.6 895 841.5 C903.2 841.4 910 841.5 917.5 841 C925 840.5 931.4 839.9 940 838.5 C948.6 837.1 957.1 834.9 969.4 832.4 C981.6 829.9 998.8 826.9 1013.5 823.5 C1028.2 820.1 1045.3 816.2 1057.6 811.8 C1069.8 807.4 1079.2 802.9 1087 797 C1094.8 791.1 1099.8 784.3 1104.7 776.5 C1109.6 768.7 1113.1 760.3 1116.5 750 C1119.9 739.7 1122.4 728.4 1125.3 714.7 C1128.2 701 1131.5 682.8 1134 667.6 C1136.5 652.4 1138.4 635.8 1140 623.5 C1141.6 611.2 1142.9 598.9 1143.5 594" fill="none" stroke="#000" stroke-width="3.4" stroke-linejoin="round" />
<path d="M830.9 814 C836.6 814 854 814 865 814 C876 814 887.5 814.8 896.9 814 C906.3 813.2 914.4 810.9 921.6 809.5 C928.8 808.1 934.8 807.3 940 805.9 C945.2 804.5 947.7 803.4 952.6 801.3 C957.5 799.1 961.7 797.6 969.4 793 C977.1 788.4 990.9 779.7 998.8 773.5 C1006.6 767.3 1011.6 762.3 1016.5 755.9 C1021.4 749.5 1024.8 743.6 1028.2 735.3 C1031.6 727 1034 717.2 1037 705.9 C1040 694.6 1043 680.8 1045.9 667.6 C1048.9 654.4 1052.2 637.8 1054.7 626.5 C1057.2 615.2 1058.6 607.4 1060.6 600 C1062.6 592.6 1064.3 587.8 1066.5 582.4 C1068.7 577 1072.6 570.1 1073.8 567.6" fill="none" stroke="#d01c1c" stroke-width="3.4" stroke-linejoin="round" />
<path d="M880 821.5 C883.5 821.7 894.1 821.6 901 822.5 C907.9 823.4 918.2 826.2 921.6 827" fill="none" stroke="#22dc22" stroke-width="3" stroke-linejoin="round" />
<path d="M852.5 820.8 C857.1 820.9 871.9 821.4 880 821.5 C888.1 821.6 894.1 821.9 901 821.3 C907.9 820.7 915.1 818.8 921.6 817.8 C928.1 816.8 932 817 940 815 C948 813 958.6 810.4 969.4 805.9 C980.2 801.4 993.9 794.6 1004.7 788.2 C1015.5 781.8 1026.2 775 1034 767.6 C1041.8 760.2 1047.4 752.8 1051.8 744 C1056.2 735.2 1058.1 725 1060.6 714.7 C1063 704.4 1064.5 693.7 1066.5 682.4 C1068.5 671.1 1070.7 659.3 1072.4 647 C1074.1 634.7 1074.9 620.5 1076.8 608.8 C1078.7 597 1082.8 581.9 1084 576.5" fill="none" stroke="#22dc22" stroke-width="3.4" stroke-linejoin="round" />
<path d="M851.5 806.4 C854.6 806.6 864.5 806.7 870 807.4 C875.5 808.1 882.1 810 884.5 810.5" fill="none" stroke="#1a1ac4" stroke-width="3" stroke-linejoin="round" />
<path d="M773.1 807 C780.9 807 806.9 806.9 820 806.8 C833.1 806.7 843.2 806.5 851.5 806.4 C859.8 806.3 865.2 806.4 870 806 C874.8 805.6 875.2 805.5 880.4 804.3 C885.6 803.1 894.1 800.9 901 799 C907.9 797.1 915.1 795.3 921.6 793 C928.1 790.7 934.5 789 940 785.3 C945.5 781.6 950.8 775.5 954.7 770.6 C958.6 765.7 960.5 759.3 963.5 755.9 C966.5 752.5 969 753.9 972.4 750 C975.8 746.1 979.6 739.3 984 732.4 C988.4 725.5 994.4 717.1 998.8 708.8 C1003.2 700.5 1007.2 691.7 1010.6 682.4 C1014 673.1 1017 662.8 1019.4 653 C1021.8 643.2 1023.3 633.3 1025.3 623.5 C1027.3 613.7 1028.5 604.5 1031.2 594 C1033.9 583.5 1039.8 565.9 1041.5 560.3" fill="none" stroke="#1a1ac4" stroke-width="3.4" stroke-linejoin="round" />
</g>
<rect x="736.5" y="547" width="427.5" height="393" fill="none" stroke="#000" stroke-width="2.8"/>
<line x1="736.5" y1="547" x2="742.5" y2="547" stroke="#111" stroke-width="2" />
<line x1="1164" y1="547" x2="1158" y2="547" stroke="#111" stroke-width="2" />
<line x1="736.5" y1="556.8" x2="740" y2="556.8" stroke="#111" stroke-width="2" />
<line x1="1164" y1="556.8" x2="1160.5" y2="556.8" stroke="#111" stroke-width="2" />
<line x1="736.5" y1="566.6" x2="740" y2="566.6" stroke="#111" stroke-width="2" />
<line x1="1164" y1="566.6" x2="1160.5" y2="566.6" stroke="#111" stroke-width="2" />
<line x1="736.5" y1="576.5" x2="740" y2="576.5" stroke="#111" stroke-width="2" />
<line x1="1164" y1="576.5" x2="1160.5" y2="576.5" stroke="#111" stroke-width="2" />
<line x1="736.5" y1="586.3" x2="740" y2="586.3" stroke="#111" stroke-width="2" />
<line x1="1164" y1="586.3" x2="1160.5" y2="586.3" stroke="#111" stroke-width="2" />
<line x1="736.5" y1="596.1" x2="742.5" y2="596.1" stroke="#111" stroke-width="2" />
<line x1="1164" y1="596.1" x2="1158" y2="596.1" stroke="#111" stroke-width="2" />
<line x1="736.5" y1="606" x2="740" y2="606" stroke="#111" stroke-width="2" />
<line x1="1164" y1="606" x2="1160.5" y2="606" stroke="#111" stroke-width="2" />
<line x1="736.5" y1="615.8" x2="740" y2="615.8" stroke="#111" stroke-width="2" />
<line x1="1164" y1="615.8" x2="1160.5" y2="615.8" stroke="#111" stroke-width="2" />
<line x1="736.5" y1="625.6" x2="740" y2="625.6" stroke="#111" stroke-width="2" />
<line x1="1164" y1="625.6" x2="1160.5" y2="625.6" stroke="#111" stroke-width="2" />
<line x1="736.5" y1="635.4" x2="740" y2="635.4" stroke="#111" stroke-width="2" />
<line x1="1164" y1="635.4" x2="1160.5" y2="635.4" stroke="#111" stroke-width="2" />
<line x1="736.5" y1="645.2" x2="742.5" y2="645.2" stroke="#111" stroke-width="2" />
<line x1="1164" y1="645.2" x2="1158" y2="645.2" stroke="#111" stroke-width="2" />
<line x1="736.5" y1="655.1" x2="740" y2="655.1" stroke="#111" stroke-width="2" />
<line x1="1164" y1="655.1" x2="1160.5" y2="655.1" stroke="#111" stroke-width="2" />
<line x1="736.5" y1="664.9" x2="740" y2="664.9" stroke="#111" stroke-width="2" />
<line x1="1164" y1="664.9" x2="1160.5" y2="664.9" stroke="#111" stroke-width="2" />
<line x1="736.5" y1="674.7" x2="740" y2="674.7" stroke="#111" stroke-width="2" />
<line x1="1164" y1="674.7" x2="1160.5" y2="674.7" stroke="#111" stroke-width="2" />
<line x1="736.5" y1="684.5" x2="740" y2="684.5" stroke="#111" stroke-width="2" />
<line x1="1164" y1="684.5" x2="1160.5" y2="684.5" stroke="#111" stroke-width="2" />
<line x1="736.5" y1="694.4" x2="742.5" y2="694.4" stroke="#111" stroke-width="2" />
<line x1="1164" y1="694.4" x2="1158" y2="694.4" stroke="#111" stroke-width="2" />
<line x1="736.5" y1="704.2" x2="740" y2="704.2" stroke="#111" stroke-width="2" />
<line x1="1164" y1="704.2" x2="1160.5" y2="704.2" stroke="#111" stroke-width="2" />
<line x1="736.5" y1="714" x2="740" y2="714" stroke="#111" stroke-width="2" />
<line x1="1164" y1="714" x2="1160.5" y2="714" stroke="#111" stroke-width="2" />
<line x1="736.5" y1="723.9" x2="740" y2="723.9" stroke="#111" stroke-width="2" />
<line x1="1164" y1="723.9" x2="1160.5" y2="723.9" stroke="#111" stroke-width="2" />
<line x1="736.5" y1="733.7" x2="740" y2="733.7" stroke="#111" stroke-width="2" />
<line x1="1164" y1="733.7" x2="1160.5" y2="733.7" stroke="#111" stroke-width="2" />
<line x1="736.5" y1="743.5" x2="742.5" y2="743.5" stroke="#111" stroke-width="2" />
<line x1="1164" y1="743.5" x2="1158" y2="743.5" stroke="#111" stroke-width="2" />
<line x1="736.5" y1="753.3" x2="740" y2="753.3" stroke="#111" stroke-width="2" />
<line x1="1164" y1="753.3" x2="1160.5" y2="753.3" stroke="#111" stroke-width="2" />
<line x1="736.5" y1="763.1" x2="740" y2="763.1" stroke="#111" stroke-width="2" />
<line x1="1164" y1="763.1" x2="1160.5" y2="763.1" stroke="#111" stroke-width="2" />
<line x1="736.5" y1="773" x2="740" y2="773" stroke="#111" stroke-width="2" />
<line x1="1164" y1="773" x2="1160.5" y2="773" stroke="#111" stroke-width="2" />
<line x1="736.5" y1="782.8" x2="740" y2="782.8" stroke="#111" stroke-width="2" />
<line x1="1164" y1="782.8" x2="1160.5" y2="782.8" stroke="#111" stroke-width="2" />
<line x1="736.5" y1="792.6" x2="742.5" y2="792.6" stroke="#111" stroke-width="2" />
<line x1="1164" y1="792.6" x2="1158" y2="792.6" stroke="#111" stroke-width="2" />
<line x1="736.5" y1="802.5" x2="740" y2="802.5" stroke="#111" stroke-width="2" />
<line x1="1164" y1="802.5" x2="1160.5" y2="802.5" stroke="#111" stroke-width="2" />
<line x1="736.5" y1="812.3" x2="740" y2="812.3" stroke="#111" stroke-width="2" />
<line x1="1164" y1="812.3" x2="1160.5" y2="812.3" stroke="#111" stroke-width="2" />
<line x1="736.5" y1="822.1" x2="740" y2="822.1" stroke="#111" stroke-width="2" />
<line x1="1164" y1="822.1" x2="1160.5" y2="822.1" stroke="#111" stroke-width="2" />
<line x1="736.5" y1="831.9" x2="740" y2="831.9" stroke="#111" stroke-width="2" />
<line x1="1164" y1="831.9" x2="1160.5" y2="831.9" stroke="#111" stroke-width="2" />
<line x1="736.5" y1="841.8" x2="742.5" y2="841.8" stroke="#111" stroke-width="2" />
<line x1="1164" y1="841.8" x2="1158" y2="841.8" stroke="#111" stroke-width="2" />
<line x1="736.5" y1="851.6" x2="740" y2="851.6" stroke="#111" stroke-width="2" />
<line x1="1164" y1="851.6" x2="1160.5" y2="851.6" stroke="#111" stroke-width="2" />
<line x1="736.5" y1="861.4" x2="740" y2="861.4" stroke="#111" stroke-width="2" />
<line x1="1164" y1="861.4" x2="1160.5" y2="861.4" stroke="#111" stroke-width="2" />
<line x1="736.5" y1="871.2" x2="740" y2="871.2" stroke="#111" stroke-width="2" />
<line x1="1164" y1="871.2" x2="1160.5" y2="871.2" stroke="#111" stroke-width="2" />
<line x1="736.5" y1="881.1" x2="740" y2="881.1" stroke="#111" stroke-width="2" />
<line x1="1164" y1="881.1" x2="1160.5" y2="881.1" stroke="#111" stroke-width="2" />
<line x1="736.5" y1="890.9" x2="742.5" y2="890.9" stroke="#111" stroke-width="2" />
<line x1="1164" y1="890.9" x2="1158" y2="890.9" stroke="#111" stroke-width="2" />
<line x1="736.5" y1="900.7" x2="740" y2="900.7" stroke="#111" stroke-width="2" />
<line x1="1164" y1="900.7" x2="1160.5" y2="900.7" stroke="#111" stroke-width="2" />
<line x1="736.5" y1="910.5" x2="740" y2="910.5" stroke="#111" stroke-width="2" />
<line x1="1164" y1="910.5" x2="1160.5" y2="910.5" stroke="#111" stroke-width="2" />
<line x1="736.5" y1="920.3" x2="740" y2="920.3" stroke="#111" stroke-width="2" />
<line x1="1164" y1="920.3" x2="1160.5" y2="920.3" stroke="#111" stroke-width="2" />
<line x1="736.5" y1="930.2" x2="740" y2="930.2" stroke="#111" stroke-width="2" />
<line x1="1164" y1="930.2" x2="1160.5" y2="930.2" stroke="#111" stroke-width="2" />
<line x1="736.5" y1="940" x2="742.5" y2="940" stroke="#111" stroke-width="2" />
<line x1="1164" y1="940" x2="1158" y2="940" stroke="#111" stroke-width="2" />
<line x1="736.5" y1="940" x2="736.5" y2="934" stroke="#111" stroke-width="2" />
<line x1="736.5" y1="547" x2="736.5" y2="553" stroke="#111" stroke-width="2" />
<line x1="749.4" y1="940" x2="749.4" y2="936.5" stroke="#111" stroke-width="1.8" />
<line x1="749.4" y1="547" x2="749.4" y2="550.5" stroke="#111" stroke-width="1.8" />
<line x1="756.9" y1="940" x2="756.9" y2="936.5" stroke="#111" stroke-width="1.8" />
<line x1="756.9" y1="547" x2="756.9" y2="550.5" stroke="#111" stroke-width="1.8" />
<line x1="762.2" y1="940" x2="762.2" y2="936.5" stroke="#111" stroke-width="1.8" />
<line x1="762.2" y1="547" x2="762.2" y2="550.5" stroke="#111" stroke-width="1.8" />
<line x1="766.4" y1="940" x2="766.4" y2="936.5" stroke="#111" stroke-width="1.8" />
<line x1="766.4" y1="547" x2="766.4" y2="550.5" stroke="#111" stroke-width="1.8" />
<line x1="769.8" y1="940" x2="769.8" y2="936.5" stroke="#111" stroke-width="1.8" />
<line x1="769.8" y1="547" x2="769.8" y2="550.5" stroke="#111" stroke-width="1.8" />
<line x1="772.6" y1="940" x2="772.6" y2="936.5" stroke="#111" stroke-width="1.8" />
<line x1="772.6" y1="547" x2="772.6" y2="550.5" stroke="#111" stroke-width="1.8" />
<line x1="775.1" y1="940" x2="775.1" y2="936.5" stroke="#111" stroke-width="1.8" />
<line x1="775.1" y1="547" x2="775.1" y2="550.5" stroke="#111" stroke-width="1.8" />
<line x1="777.3" y1="940" x2="777.3" y2="936.5" stroke="#111" stroke-width="1.8" />
<line x1="777.3" y1="547" x2="777.3" y2="550.5" stroke="#111" stroke-width="1.8" />
<line x1="779.2" y1="940" x2="779.2" y2="934" stroke="#111" stroke-width="2" />
<line x1="779.2" y1="547" x2="779.2" y2="553" stroke="#111" stroke-width="2" />
<line x1="792.1" y1="940" x2="792.1" y2="936.5" stroke="#111" stroke-width="1.8" />
<line x1="792.1" y1="547" x2="792.1" y2="550.5" stroke="#111" stroke-width="1.8" />
<line x1="799.6" y1="940" x2="799.6" y2="936.5" stroke="#111" stroke-width="1.8" />
<line x1="799.6" y1="547" x2="799.6" y2="550.5" stroke="#111" stroke-width="1.8" />
<line x1="805" y1="940" x2="805" y2="936.5" stroke="#111" stroke-width="1.8" />
<line x1="805" y1="547" x2="805" y2="550.5" stroke="#111" stroke-width="1.8" />
<line x1="809.1" y1="940" x2="809.1" y2="936.5" stroke="#111" stroke-width="1.8" />
<line x1="809.1" y1="547" x2="809.1" y2="550.5" stroke="#111" stroke-width="1.8" />
<line x1="812.5" y1="940" x2="812.5" y2="936.5" stroke="#111" stroke-width="1.8" />
<line x1="812.5" y1="547" x2="812.5" y2="550.5" stroke="#111" stroke-width="1.8" />
<line x1="815.4" y1="940" x2="815.4" y2="936.5" stroke="#111" stroke-width="1.8" />
<line x1="815.4" y1="547" x2="815.4" y2="550.5" stroke="#111" stroke-width="1.8" />
<line x1="817.9" y1="940" x2="817.9" y2="936.5" stroke="#111" stroke-width="1.8" />
<line x1="817.9" y1="547" x2="817.9" y2="550.5" stroke="#111" stroke-width="1.8" />
<line x1="820" y1="940" x2="820" y2="936.5" stroke="#111" stroke-width="1.8" />
<line x1="820" y1="547" x2="820" y2="550.5" stroke="#111" stroke-width="1.8" />
<line x1="822" y1="940" x2="822" y2="934" stroke="#111" stroke-width="2" />
<line x1="822" y1="547" x2="822" y2="553" stroke="#111" stroke-width="2" />
<line x1="834.9" y1="940" x2="834.9" y2="936.5" stroke="#111" stroke-width="1.8" />
<line x1="834.9" y1="547" x2="834.9" y2="550.5" stroke="#111" stroke-width="1.8" />
<line x1="842.4" y1="940" x2="842.4" y2="936.5" stroke="#111" stroke-width="1.8" />
<line x1="842.4" y1="547" x2="842.4" y2="550.5" stroke="#111" stroke-width="1.8" />
<line x1="847.7" y1="940" x2="847.7" y2="936.5" stroke="#111" stroke-width="1.8" />
<line x1="847.7" y1="547" x2="847.7" y2="550.5" stroke="#111" stroke-width="1.8" />
<line x1="851.9" y1="940" x2="851.9" y2="936.5" stroke="#111" stroke-width="1.8" />
<line x1="851.9" y1="547" x2="851.9" y2="550.5" stroke="#111" stroke-width="1.8" />
<line x1="855.3" y1="940" x2="855.3" y2="936.5" stroke="#111" stroke-width="1.8" />
<line x1="855.3" y1="547" x2="855.3" y2="550.5" stroke="#111" stroke-width="1.8" />
<line x1="858.1" y1="940" x2="858.1" y2="936.5" stroke="#111" stroke-width="1.8" />
<line x1="858.1" y1="547" x2="858.1" y2="550.5" stroke="#111" stroke-width="1.8" />
<line x1="860.6" y1="940" x2="860.6" y2="936.5" stroke="#111" stroke-width="1.8" />
<line x1="860.6" y1="547" x2="860.6" y2="550.5" stroke="#111" stroke-width="1.8" />
<line x1="862.8" y1="940" x2="862.8" y2="936.5" stroke="#111" stroke-width="1.8" />
<line x1="862.8" y1="547" x2="862.8" y2="550.5" stroke="#111" stroke-width="1.8" />
<line x1="864.8" y1="940" x2="864.8" y2="934" stroke="#111" stroke-width="2" />
<line x1="864.8" y1="547" x2="864.8" y2="553" stroke="#111" stroke-width="2" />
<line x1="877.6" y1="940" x2="877.6" y2="936.5" stroke="#111" stroke-width="1.8" />
<line x1="877.6" y1="547" x2="877.6" y2="550.5" stroke="#111" stroke-width="1.8" />
<line x1="885.1" y1="940" x2="885.1" y2="936.5" stroke="#111" stroke-width="1.8" />
<line x1="885.1" y1="547" x2="885.1" y2="550.5" stroke="#111" stroke-width="1.8" />
<line x1="890.5" y1="940" x2="890.5" y2="936.5" stroke="#111" stroke-width="1.8" />
<line x1="890.5" y1="547" x2="890.5" y2="550.5" stroke="#111" stroke-width="1.8" />
<line x1="894.6" y1="940" x2="894.6" y2="936.5" stroke="#111" stroke-width="1.8" />
<line x1="894.6" y1="547" x2="894.6" y2="550.5" stroke="#111" stroke-width="1.8" />
<line x1="898" y1="940" x2="898" y2="936.5" stroke="#111" stroke-width="1.8" />
<line x1="898" y1="547" x2="898" y2="550.5" stroke="#111" stroke-width="1.8" />
<line x1="900.9" y1="940" x2="900.9" y2="936.5" stroke="#111" stroke-width="1.8" />
<line x1="900.9" y1="547" x2="900.9" y2="550.5" stroke="#111" stroke-width="1.8" />
<line x1="903.4" y1="940" x2="903.4" y2="936.5" stroke="#111" stroke-width="1.8" />
<line x1="903.4" y1="547" x2="903.4" y2="550.5" stroke="#111" stroke-width="1.8" />
<line x1="905.5" y1="940" x2="905.5" y2="936.5" stroke="#111" stroke-width="1.8" />
<line x1="905.5" y1="547" x2="905.5" y2="550.5" stroke="#111" stroke-width="1.8" />
<line x1="907.5" y1="940" x2="907.5" y2="934" stroke="#111" stroke-width="2" />
<line x1="907.5" y1="547" x2="907.5" y2="553" stroke="#111" stroke-width="2" />
<line x1="920.4" y1="940" x2="920.4" y2="936.5" stroke="#111" stroke-width="1.8" />
<line x1="920.4" y1="547" x2="920.4" y2="550.5" stroke="#111" stroke-width="1.8" />
<line x1="927.9" y1="940" x2="927.9" y2="936.5" stroke="#111" stroke-width="1.8" />
<line x1="927.9" y1="547" x2="927.9" y2="550.5" stroke="#111" stroke-width="1.8" />
<line x1="933.2" y1="940" x2="933.2" y2="936.5" stroke="#111" stroke-width="1.8" />
<line x1="933.2" y1="547" x2="933.2" y2="550.5" stroke="#111" stroke-width="1.8" />
<line x1="937.4" y1="940" x2="937.4" y2="936.5" stroke="#111" stroke-width="1.8" />
<line x1="937.4" y1="547" x2="937.4" y2="550.5" stroke="#111" stroke-width="1.8" />
<line x1="940.8" y1="940" x2="940.8" y2="936.5" stroke="#111" stroke-width="1.8" />
<line x1="940.8" y1="547" x2="940.8" y2="550.5" stroke="#111" stroke-width="1.8" />
<line x1="943.6" y1="940" x2="943.6" y2="936.5" stroke="#111" stroke-width="1.8" />
<line x1="943.6" y1="547" x2="943.6" y2="550.5" stroke="#111" stroke-width="1.8" />
<line x1="946.1" y1="940" x2="946.1" y2="936.5" stroke="#111" stroke-width="1.8" />
<line x1="946.1" y1="547" x2="946.1" y2="550.5" stroke="#111" stroke-width="1.8" />
<line x1="948.3" y1="940" x2="948.3" y2="936.5" stroke="#111" stroke-width="1.8" />
<line x1="948.3" y1="547" x2="948.3" y2="550.5" stroke="#111" stroke-width="1.8" />
<line x1="950.2" y1="940" x2="950.2" y2="934" stroke="#111" stroke-width="2" />
<line x1="950.2" y1="547" x2="950.2" y2="553" stroke="#111" stroke-width="2" />
<line x1="963.1" y1="940" x2="963.1" y2="936.5" stroke="#111" stroke-width="1.8" />
<line x1="963.1" y1="547" x2="963.1" y2="550.5" stroke="#111" stroke-width="1.8" />
<line x1="970.6" y1="940" x2="970.6" y2="936.5" stroke="#111" stroke-width="1.8" />
<line x1="970.6" y1="547" x2="970.6" y2="550.5" stroke="#111" stroke-width="1.8" />
<line x1="976" y1="940" x2="976" y2="936.5" stroke="#111" stroke-width="1.8" />
<line x1="976" y1="547" x2="976" y2="550.5" stroke="#111" stroke-width="1.8" />
<line x1="980.1" y1="940" x2="980.1" y2="936.5" stroke="#111" stroke-width="1.8" />
<line x1="980.1" y1="547" x2="980.1" y2="550.5" stroke="#111" stroke-width="1.8" />
<line x1="983.5" y1="940" x2="983.5" y2="936.5" stroke="#111" stroke-width="1.8" />
<line x1="983.5" y1="547" x2="983.5" y2="550.5" stroke="#111" stroke-width="1.8" />
<line x1="986.4" y1="940" x2="986.4" y2="936.5" stroke="#111" stroke-width="1.8" />
<line x1="986.4" y1="547" x2="986.4" y2="550.5" stroke="#111" stroke-width="1.8" />
<line x1="988.9" y1="940" x2="988.9" y2="936.5" stroke="#111" stroke-width="1.8" />
<line x1="988.9" y1="547" x2="988.9" y2="550.5" stroke="#111" stroke-width="1.8" />
<line x1="991" y1="940" x2="991" y2="936.5" stroke="#111" stroke-width="1.8" />
<line x1="991" y1="547" x2="991" y2="550.5" stroke="#111" stroke-width="1.8" />
<line x1="993" y1="940" x2="993" y2="934" stroke="#111" stroke-width="2" />
<line x1="993" y1="547" x2="993" y2="553" stroke="#111" stroke-width="2" />
<line x1="1005.9" y1="940" x2="1005.9" y2="936.5" stroke="#111" stroke-width="1.8" />
<line x1="1005.9" y1="547" x2="1005.9" y2="550.5" stroke="#111" stroke-width="1.8" />
<line x1="1013.4" y1="940" x2="1013.4" y2="936.5" stroke="#111" stroke-width="1.8" />
<line x1="1013.4" y1="547" x2="1013.4" y2="550.5" stroke="#111" stroke-width="1.8" />
<line x1="1018.7" y1="940" x2="1018.7" y2="936.5" stroke="#111" stroke-width="1.8" />
<line x1="1018.7" y1="547" x2="1018.7" y2="550.5" stroke="#111" stroke-width="1.8" />
<line x1="1022.9" y1="940" x2="1022.9" y2="936.5" stroke="#111" stroke-width="1.8" />
<line x1="1022.9" y1="547" x2="1022.9" y2="550.5" stroke="#111" stroke-width="1.8" />
<line x1="1026.3" y1="940" x2="1026.3" y2="936.5" stroke="#111" stroke-width="1.8" />
<line x1="1026.3" y1="547" x2="1026.3" y2="550.5" stroke="#111" stroke-width="1.8" />
<line x1="1029.1" y1="940" x2="1029.1" y2="936.5" stroke="#111" stroke-width="1.8" />
<line x1="1029.1" y1="547" x2="1029.1" y2="550.5" stroke="#111" stroke-width="1.8" />
<line x1="1031.6" y1="940" x2="1031.6" y2="936.5" stroke="#111" stroke-width="1.8" />
<line x1="1031.6" y1="547" x2="1031.6" y2="550.5" stroke="#111" stroke-width="1.8" />
<line x1="1033.8" y1="940" x2="1033.8" y2="936.5" stroke="#111" stroke-width="1.8" />
<line x1="1033.8" y1="547" x2="1033.8" y2="550.5" stroke="#111" stroke-width="1.8" />
<line x1="1035.8" y1="940" x2="1035.8" y2="934" stroke="#111" stroke-width="2" />
<line x1="1035.8" y1="547" x2="1035.8" y2="553" stroke="#111" stroke-width="2" />
<line x1="1048.6" y1="940" x2="1048.6" y2="936.5" stroke="#111" stroke-width="1.8" />
<line x1="1048.6" y1="547" x2="1048.6" y2="550.5" stroke="#111" stroke-width="1.8" />
<line x1="1056.1" y1="940" x2="1056.1" y2="936.5" stroke="#111" stroke-width="1.8" />
<line x1="1056.1" y1="547" x2="1056.1" y2="550.5" stroke="#111" stroke-width="1.8" />
<line x1="1061.5" y1="940" x2="1061.5" y2="936.5" stroke="#111" stroke-width="1.8" />
<line x1="1061.5" y1="547" x2="1061.5" y2="550.5" stroke="#111" stroke-width="1.8" />
<line x1="1065.6" y1="940" x2="1065.6" y2="936.5" stroke="#111" stroke-width="1.8" />
<line x1="1065.6" y1="547" x2="1065.6" y2="550.5" stroke="#111" stroke-width="1.8" />
<line x1="1069" y1="940" x2="1069" y2="936.5" stroke="#111" stroke-width="1.8" />
<line x1="1069" y1="547" x2="1069" y2="550.5" stroke="#111" stroke-width="1.8" />
<line x1="1071.9" y1="940" x2="1071.9" y2="936.5" stroke="#111" stroke-width="1.8" />
<line x1="1071.9" y1="547" x2="1071.9" y2="550.5" stroke="#111" stroke-width="1.8" />
<line x1="1074.4" y1="940" x2="1074.4" y2="936.5" stroke="#111" stroke-width="1.8" />
<line x1="1074.4" y1="547" x2="1074.4" y2="550.5" stroke="#111" stroke-width="1.8" />
<line x1="1076.5" y1="940" x2="1076.5" y2="936.5" stroke="#111" stroke-width="1.8" />
<line x1="1076.5" y1="547" x2="1076.5" y2="550.5" stroke="#111" stroke-width="1.8" />
<line x1="1078.5" y1="940" x2="1078.5" y2="934" stroke="#111" stroke-width="2" />
<line x1="1078.5" y1="547" x2="1078.5" y2="553" stroke="#111" stroke-width="2" />
<line x1="1091.4" y1="940" x2="1091.4" y2="936.5" stroke="#111" stroke-width="1.8" />
<line x1="1091.4" y1="547" x2="1091.4" y2="550.5" stroke="#111" stroke-width="1.8" />
<line x1="1098.9" y1="940" x2="1098.9" y2="936.5" stroke="#111" stroke-width="1.8" />
<line x1="1098.9" y1="547" x2="1098.9" y2="550.5" stroke="#111" stroke-width="1.8" />
<line x1="1104.2" y1="940" x2="1104.2" y2="936.5" stroke="#111" stroke-width="1.8" />
<line x1="1104.2" y1="547" x2="1104.2" y2="550.5" stroke="#111" stroke-width="1.8" />
<line x1="1108.4" y1="940" x2="1108.4" y2="936.5" stroke="#111" stroke-width="1.8" />
<line x1="1108.4" y1="547" x2="1108.4" y2="550.5" stroke="#111" stroke-width="1.8" />
<line x1="1111.8" y1="940" x2="1111.8" y2="936.5" stroke="#111" stroke-width="1.8" />
<line x1="1111.8" y1="547" x2="1111.8" y2="550.5" stroke="#111" stroke-width="1.8" />
<line x1="1114.6" y1="940" x2="1114.6" y2="936.5" stroke="#111" stroke-width="1.8" />
<line x1="1114.6" y1="547" x2="1114.6" y2="550.5" stroke="#111" stroke-width="1.8" />
<line x1="1117.1" y1="940" x2="1117.1" y2="936.5" stroke="#111" stroke-width="1.8" />
<line x1="1117.1" y1="547" x2="1117.1" y2="550.5" stroke="#111" stroke-width="1.8" />
<line x1="1119.3" y1="940" x2="1119.3" y2="936.5" stroke="#111" stroke-width="1.8" />
<line x1="1119.3" y1="547" x2="1119.3" y2="550.5" stroke="#111" stroke-width="1.8" />
<line x1="1121.2" y1="940" x2="1121.2" y2="934" stroke="#111" stroke-width="2" />
<line x1="1121.2" y1="547" x2="1121.2" y2="553" stroke="#111" stroke-width="2" />
<line x1="1134.1" y1="940" x2="1134.1" y2="936.5" stroke="#111" stroke-width="1.8" />
<line x1="1134.1" y1="547" x2="1134.1" y2="550.5" stroke="#111" stroke-width="1.8" />
<line x1="1141.6" y1="940" x2="1141.6" y2="936.5" stroke="#111" stroke-width="1.8" />
<line x1="1141.6" y1="547" x2="1141.6" y2="550.5" stroke="#111" stroke-width="1.8" />
<line x1="1147" y1="940" x2="1147" y2="936.5" stroke="#111" stroke-width="1.8" />
<line x1="1147" y1="547" x2="1147" y2="550.5" stroke="#111" stroke-width="1.8" />
<line x1="1151.1" y1="940" x2="1151.1" y2="936.5" stroke="#111" stroke-width="1.8" />
<line x1="1151.1" y1="547" x2="1151.1" y2="550.5" stroke="#111" stroke-width="1.8" />
<line x1="1154.5" y1="940" x2="1154.5" y2="936.5" stroke="#111" stroke-width="1.8" />
<line x1="1154.5" y1="547" x2="1154.5" y2="550.5" stroke="#111" stroke-width="1.8" />
<line x1="1157.4" y1="940" x2="1157.4" y2="936.5" stroke="#111" stroke-width="1.8" />
<line x1="1157.4" y1="547" x2="1157.4" y2="550.5" stroke="#111" stroke-width="1.8" />
<line x1="1159.9" y1="940" x2="1159.9" y2="936.5" stroke="#111" stroke-width="1.8" />
<line x1="1159.9" y1="547" x2="1159.9" y2="550.5" stroke="#111" stroke-width="1.8" />
<line x1="1162" y1="940" x2="1162" y2="936.5" stroke="#111" stroke-width="1.8" />
<line x1="1162" y1="547" x2="1162" y2="550.5" stroke="#111" stroke-width="1.8" />
<line x1="1164" y1="940" x2="1164" y2="934" stroke="#111" stroke-width="2" />
<line x1="1164" y1="547" x2="1164" y2="553" stroke="#111" stroke-width="2" />
<text x="726.3" y="555" font-size="23" fill="#111" text-anchor="end" stroke="#111" stroke-width="0.6">−0.5</text>
<text x="726.3" y="604.1" font-size="23" fill="#111" text-anchor="end" stroke="#111" stroke-width="0.6">−0.6</text>
<text x="726.3" y="653.2" font-size="23" fill="#111" text-anchor="end" stroke="#111" stroke-width="0.6">−0.7</text>
<text x="726.3" y="702.4" font-size="23" fill="#111" text-anchor="end" stroke="#111" stroke-width="0.6">−0.8</text>
<text x="726.3" y="751.5" font-size="23" fill="#111" text-anchor="end" stroke="#111" stroke-width="0.6">−0.9</text>
<text x="726.3" y="800.6" font-size="23" fill="#111" text-anchor="end" stroke="#111" stroke-width="0.6">−1</text>
<text x="726.3" y="849.7" font-size="23" fill="#111" text-anchor="end" stroke="#111" stroke-width="0.6">−1.1</text>
<text x="726.3" y="898.9" font-size="23" fill="#111" text-anchor="end" stroke="#111" stroke-width="0.6">−1.2</text>
<text x="726.3" y="944.6" font-size="23" fill="#111" text-anchor="end" stroke="#111" stroke-width="0.6">−1.3</text>
<text x="719.8" y="973.5" font-size="23" fill="#111" stroke="#111" stroke-width="0.6">10<tspan font-size="16.5" dy="-9.5">−11</tspan></text>
<text x="808.6" y="973.5" font-size="23" fill="#111" stroke="#111" stroke-width="0.6">10<tspan font-size="16.5" dy="-9.5">−9</tspan></text>
<text x="890.4" y="973.5" font-size="23" fill="#111" stroke="#111" stroke-width="0.6">10<tspan font-size="16.5" dy="-9.5">−7</tspan></text>
<text x="979" y="973.5" font-size="23" fill="#111" stroke="#111" stroke-width="0.6">10<tspan font-size="16.5" dy="-9.5">−5</tspan></text>
<text x="1061" y="973.5" font-size="23" fill="#111" stroke="#111" stroke-width="0.6">10<tspan font-size="16.5" dy="-9.5">−3</tspan></text>
<text x="1149.5" y="973.5" font-size="23" fill="#111" stroke="#111" stroke-width="0.6">10<tspan font-size="16.5" dy="-9.5">−1</tspan></text>
<text x="828.5" y="1011" font-size="22.5" fill="#000" stroke="#000" stroke-width="0.7" font-weight="bold" textLength="261" lengthAdjust="spacingAndGlyphs">Current Density (A/cm<tspan font-size="15" dy="-9.5">2</tspan><tspan dy="9.5">)</tspan></text>
<text transform="translate(657 745) rotate(-90)" font-size="22" fill="#000" stroke="#000" stroke-width="0.7" font-weight="bold" text-anchor="middle" textLength="176.5" lengthAdjust="spacingAndGlyphs">Potential (V<tspan font-size="15" dy="5">SCE</tspan><tspan dy="-5">)</tspan></text>
<line x1="750.6" y1="573.6" x2="792.7" y2="573.6" stroke="#3a3a3a" stroke-width="3.6" />
<text x="801.3" y="580" font-size="22.5" fill="#111" text-anchor="start" font-weight="normal" textLength="60" lengthAdjust="spacingAndGlyphs" stroke="#111" stroke-width="0.7">HDGS</text>
<line x1="750.6" y1="599.4" x2="792.7" y2="599.4" stroke="#4646d8" stroke-width="3.6" />
<text x="801.3" y="607.2" font-size="22.5" fill="#111" text-anchor="start" font-weight="normal" textLength="83" lengthAdjust="spacingAndGlyphs" stroke="#111" stroke-width="0.7">CAP + V</text>
<line x1="750.6" y1="622.6" x2="792.7" y2="622.6" stroke="#d84646" stroke-width="3.6" />
<text x="801.3" y="630.4" font-size="22.5" fill="#111" text-anchor="start" font-weight="normal" textLength="143" lengthAdjust="spacingAndGlyphs" stroke="#111" stroke-width="0.7">No CAP + no V</text>
<line x1="750.6" y1="648.4" x2="792.7" y2="648.4" stroke="#4ce04c" stroke-width="3.6" />
<text x="801.3" y="656.1" font-size="22.5" fill="#111" text-anchor="start" font-weight="normal" textLength="111" lengthAdjust="spacingAndGlyphs" stroke="#111" stroke-width="0.7">CAP + no V</text>
<line x1="750.6" y1="675.9" x2="792.7" y2="675.9" stroke="#c0c0c0" stroke-width="3.6" />
<text x="801.3" y="684.5" font-size="22.5" fill="#111" text-anchor="start" font-weight="normal" textLength="113" lengthAdjust="spacingAndGlyphs" stroke="#111" stroke-width="0.7">No CAP + V</text>
<path d="M78.4 534.4 A9.5 11.5 0 1 0 78.4 551.6" fill="none" stroke="#000" stroke-width="3.9" stroke-linecap="round"/>
</g>
</svg></div>
</body></html>
